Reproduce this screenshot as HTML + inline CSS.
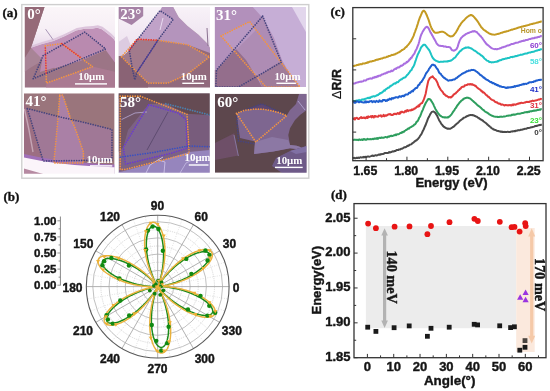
<!DOCTYPE html>
<html><head><meta charset="utf-8"><style>
html,body{margin:0;padding:0;background:#fff;width:550px;height:391px;overflow:hidden;font-family:"Liberation Sans",sans-serif}
svg{display:block;filter:blur(0.35px)}
</style></head><body>
<svg width="550" height="391" viewBox="0 0 550 391">
<defs><linearGradient id="gw1" x1="0" y1="0" x2="0" y2="1"><stop offset="0" stop-color="#fbf6f9"/><stop offset="0.6" stop-color="#f6eef5"/><stop offset="1" stop-color="#e8d8ea"/></linearGradient><linearGradient id="gw2" x1="0" y1="0" x2="0" y2="1"><stop offset="0" stop-color="#f8f2f8"/><stop offset="1" stop-color="#ece0ee"/></linearGradient><filter id="bs" x="-5%" y="-5%" width="110%" height="110%"><feGaussianBlur stdDeviation="0.3"/></filter><filter id="bl" x="-5%" y="-5%" width="110%" height="110%"><feGaussianBlur stdDeviation="0.6"/></filter></defs>
<rect width="550" height="391" fill="#fff"/>
<!-- panel a -->
<text x="2.4" y="16.8" font-family="'Liberation Serif', serif" font-weight="bold" font-size="13" fill="#111" stroke="#111" stroke-width="0.35">(a)</text>
<rect x="21.8" y="4.6" width="287" height="173.6" fill="#fff" stroke="#cfcfcf" stroke-width="1.4"/>
<clipPath id="c0"><rect x="24.6" y="7" width="90.4" height="80.7"/></clipPath>
<g clip-path="url(#c0)"><g filter="url(#bl)"><rect x="24.6" y="7" width="90.4" height="80.7" fill="#9c7486"/><polygon points="24.6,58 31,47.8 45,46 40,62 30,68 24.6,72" fill="#a88496"/><polygon points="31,47.8 41.4,44.3 53.6,40.9 64,36.5 76.2,30.4 97,27 116,33.9 116,64 105.7,50 80,61 55,68 43,60" fill="#c092b8"/><polygon points="43.1,55.6 84.8,32.1 105.7,49 60,66 40,72" fill="#b98aaf"/><polygon points="46.4,83.1 92.5,66.6 116,72 116,88 46,88" fill="#aa7a92"/><polygon points="44.5,7 116,7 116,43 114.2,39.6 111.1,36.5 106.5,32.7 101.9,29.2 97.3,27.7 92.7,28.4 85,28.8 76.2,30.4 64,36.5 53.6,40.9 41.4,44.3 31,47.8" fill="url(#gw1)"/><polygon points="116,43 114.2,39.6 111.1,36.5 106.5,32.7 101.9,29.2 97.3,27.7 92.7,28.4 85,28.8 76.2,30.4 64,36.5 53.6,40.9 41.4,44.3 31,47.8 31.6,45.4 42,41.9 54.2,38.5 64.6,34.1 76.8,28 85.6,26.4 93.3,26 97.9,25.3 102.5,26.8 107.1,30.3 111.7,34.1 114.8,37.2 116.6,40.6" fill="#dcc4dc"/><line x1="45.6" y1="29.2" x2="53" y2="39.6" stroke="#a08cb0" stroke-width="0.9"/><polygon points="24.6,7 44.5,7 31,47.8 24.6,58" fill="#956b78"/></g>
<g filter="url(#bs)">
<path d="M45.3 45.8 L61.8 43.6 L92.5 66.6 L46.4 83.1 Z" fill="none" stroke="#f39440" stroke-width="1.7" stroke-linecap="round" stroke-dasharray="0.01 2.5"/>
<path d="M33.2 78.7 L43.1 55.6 L84.8 32.1 L105.7 49 Z" fill="none" stroke="#46447e" stroke-width="1.7" stroke-linecap="round" stroke-dasharray="0.01 2.5"/>
<path d="M61.8 43.6 L81 57.8" fill="none" stroke="#e0303a" stroke-width="1.7" stroke-linecap="round" stroke-dasharray="0.01 2.5"/>
<path d="M45.3 48 L46.2 74" fill="none" stroke="#d83050" stroke-width="1.7" stroke-linecap="round" stroke-dasharray="0.01 2.5"/>
</g>
<text x="27.2" y="19.4" font-family="'Liberation Serif', serif" font-weight="bold" font-size="15" fill="#fff">0°</text>
<text x="78.2" y="80.3" font-family="'Liberation Serif', serif" font-weight="bold" font-size="10.9" fill="#fff">10μm</text>
<rect x="75" y="83.2" width="32" height="1.4" fill="#fff"/>
</g>
<clipPath id="c1"><rect x="118.5" y="7" width="91.5" height="80.7"/></clipPath>
<g clip-path="url(#c1)"><g filter="url(#bl)"><rect x="118.5" y="7" width="91.5" height="80.7" fill="#916b7d"/><polygon points="121.6,56.8 137,39.2 157.9,40.3 187.5,44.7 209.5,56.8 187.5,74.3 167.7,83.1 148,83.1" fill="#a27a8c"/><polygon points="118.5,56 121.6,56.8 148,83.1 148,88 118.5,88" fill="#8a6474"/><polygon points="160,10.6 161,7 173.2,7 178.7,17.2 187.5,26 198.5,34.8 207.3,43.6 210,48 210,53 187.5,44.7 157.9,40.3 137,39.2 129.3,50.2" fill="#b494bc"/><polygon points="160,10.6 173.2,19.4 157.9,40.3 137,39.2 129.3,50.2" fill="#c0a2c8"/><polygon points="173.2,7 210,7 210,48 207.3,43.6 198.5,34.8 187.5,26 178.7,17.2" fill="url(#gw2)"/><polygon points="118.5,7 162,7 160,10.6 129.3,50.2 124,55 118.5,56" fill="url(#gw2)"/><polygon points="118.5,42 127,36 131,46 124,55 118.5,56" fill="#dccbe0"/><polygon points="118.5,7 143.2,7 143.2,16 131.6,24.9 118.5,18.6" fill="#a682a6"/><line x1="163" y1="18" x2="160" y2="30" stroke="#e8dcf0" stroke-width="1"/><line x1="207" y1="28" x2="208" y2="46" stroke="#8a7090" stroke-width="1"/><line x1="157.9" y1="40.3" x2="137" y2="72.1" stroke="#5a3ab0" stroke-width="1.1"/></g>
<g filter="url(#bs)">
<path d="M121.6 56.8 L137 39.2 L157.9 40.3 L187.5 44.7 L209.5 56.8 L187.5 74.3 L167.7 83.1 L148 83.1 Z" fill="none" stroke="#f39440" stroke-width="1.7" stroke-linecap="round" stroke-dasharray="0.01 2.5"/>
<path d="M157.9 40.3 L173.2 19.4 L160 10.6 L129.3 50.2 L132.6 70 L134.8 79.8 L137 72.1 Z" fill="none" stroke="#46447e" stroke-width="1.7" stroke-linecap="round" stroke-dasharray="0.01 2.5"/>
<path d="M129.3 50.2 L137 39.2 L157.9 40.3" fill="none" stroke="#e0303a" stroke-width="1.7" stroke-linecap="round" stroke-dasharray="0.01 2.5"/>
</g>
<text x="120.2" y="19.4" font-family="'Liberation Serif', serif" font-weight="bold" font-size="15" fill="#fff">23°</text>
<text x="180.7" y="80" font-family="'Liberation Serif', serif" font-weight="bold" font-size="10.9" fill="#fff">10μm</text>
<rect x="182.3" y="82.6" width="21.8" height="1.4" fill="#fff"/>
</g>
<clipPath id="c2"><rect x="214.6" y="7" width="91.4" height="80"/></clipPath>
<g clip-path="url(#c2)"><g filter="url(#bl)"><rect x="214.6" y="7" width="91.4" height="80" fill="#b290bb"/><polygon points="252.8,7 306,7 306,87 299,87 290.6,75.2 282.2,60.5 273.8,37.5 263.3,18.6" fill="#c6aed6"/><polygon points="292,7 306,7 306,32" fill="#e2d6ec"/><polygon points="230,57 262.7,16.1 281.4,62.2 258,74 245,62" fill="#ae8cb4"/><polygon points="221,35.9 249.6,21.6 256,30 234,52" fill="#b898c2"/><polygon points="214.6,87 214.6,70 216.6,69.9 236,49 246,60 256,76 262,87" fill="#946e8c"/><polygon points="258,76 281,61 290.6,75.2 299,87 262,87" fill="#a07c9a"/></g>
<g filter="url(#bs)">
<path d="M221 35.9 L249.6 21.6 L300 87 L266 87 Z" fill="none" stroke="#f39440" stroke-width="1.7" stroke-linecap="round" stroke-dasharray="0.01 2.5"/>
<path d="M262.7 16.1 L281.4 62.2 L238.6 87 L215.8 87 L216.6 69.9 Z" fill="none" stroke="#46447e" stroke-width="1.7" stroke-linecap="round" stroke-dasharray="0.01 2.5"/>
</g>
<text x="216" y="20" font-family="'Liberation Serif', serif" font-weight="bold" font-size="15" fill="#fff">31°</text>
<text x="274.4" y="80.3" font-family="'Liberation Serif', serif" font-weight="bold" font-size="10.9" fill="#fff">10μm</text>
<rect x="276.4" y="82.6" width="19.5" height="1.4" fill="#fff"/>
</g>
<clipPath id="c3"><rect x="23.9" y="93.3" width="90.7" height="80.5"/></clipPath>
<g clip-path="url(#c3)"><g filter="url(#bl)"><rect x="23.9" y="93.3" width="90.7" height="80.5" fill="#9a747b"/><polygon points="23.9,100 27.3,108.5 43.2,161 23.9,160" fill="#9c6e82"/><polygon points="27.3,108.5 60.2,117 85.7,122.8 112,129.5 112,160 43.2,161" fill="#a07896"/><polygon points="59.8,95 62.7,95 70.6,118.6 74.5,126.5 79.4,140.2 83.4,152 83.4,162.9 53.9,162.9 55.8,142.2 57.8,120.6" fill="#aa80a6"/><polyline points="24.5,109 29,130 33,152" fill="none" stroke="#c4a4b4" stroke-width="1.4"/><path d="M23.9 154 Q56 161.5 92.7 163.5 T114.6 164.5 L114.6 174 L23.9 174 Z" fill="#a070b8"/><path d="M23.9 157.5 Q56 164.5 92.7 166.3 T114.6 167.5 L114.6 174 L23.9 174 Z" fill="#fbf5fa"/><polygon points="23.9,168.4 43.2,174 23.9,174" fill="#b68aa2"/></g>
<g filter="url(#bs)">
<path d="M59.8 95 L62.7 95 L70.6 118.6 L74.5 126.5 L79.4 140.2 L83.4 152 L83.4 162.9 L53.9 162.9 L55.8 142.2 L57.8 120.6 Z" fill="none" stroke="#f39440" stroke-width="1.7" stroke-linecap="round" stroke-dasharray="0.01 2.5"/>
<path d="M27.3 108.5 L60.2 117 L85.7 122.8 L112 129.5 L112 160 L43.2 161 Z" fill="none" stroke="#46447e" stroke-width="1.7" stroke-linecap="round" stroke-dasharray="0.01 2.5"/>
</g>
<text x="25.4" y="106" font-family="'Liberation Serif', serif" font-weight="bold" font-size="15" fill="#fff">41°</text>
<text x="86.5" y="163.3" font-family="'Liberation Serif', serif" font-weight="bold" font-size="10.9" fill="#fff">10μm</text>
<rect x="90" y="165.2" width="22.3" height="1.4" fill="#fff"/>
</g>
<clipPath id="c4"><rect x="118.5" y="93.3" width="91.3" height="79.5"/></clipPath>
<g clip-path="url(#c4)"><g filter="url(#bl)"><rect x="118.5" y="93.3" width="91.3" height="79.5" fill="#7c6284"/><polygon points="118.5,93.3 209.8,93.3 209.8,115.3 187,114 165.8,103.7 148.8,104 128,130 123.4,147 118.5,152" fill="#6f5468"/><polygon points="118.5,93.3 209.8,93.3 209.8,115.3 187,114 165.8,103.7 150,101 140,98 118.5,99" fill="#654c53"/><polygon points="187,114 209.8,115.3 209.8,147 187,148" fill="#785c7c"/><polygon points="148.8,104.7 178.5,113.2 186,119.6 187,148.2 170,153.5 125.5,164.1 123.4,147.2" fill="#7e668e"/><polygon points="118.5,172 122,171.6 150,164 188.8,152 209.8,150 209.8,173 118.5,173" fill="#9685bd"/><polyline points="121.5,119.6 135,113 147,112" fill="none" stroke="#b0a0c8" stroke-width="0.9"/><polyline points="146,173 150,165 158,160 163,157" fill="none" stroke="#c8bce4" stroke-width="1"/><polyline points="158,160 165,162 164,173" fill="none" stroke="#c8bce4" stroke-width="1"/><polyline points="180,173 186,163 196,158 209,156" fill="none" stroke="#c0b4e0" stroke-width="0.9"/><line x1="168" y1="112" x2="147" y2="150" stroke="#5e4c70" stroke-width="1"/></g>
<g filter="url(#bs)">
<path d="M120.2 96.2 L140.3 96.2 L187 114.3 L189.1 153.5 L125.5 169.4 L120.2 169.4 Z" fill="none" stroke="#f39440" stroke-width="1.7" stroke-linecap="round" stroke-dasharray="0.01 2.5"/>
<path d="M148.8 104.7 L178.5 113.2 L186 119.6 L187 148.2 L170 153.5 L125.5 164.1 L123.4 147.2 Z" fill="none" stroke="#6a3ad0" stroke-width="1.7" stroke-linecap="round" stroke-dasharray="0.01 2.5"/>
<path d="M120.4 157.1 L151.2 152.8 L188.8 146 L211 146.8" fill="none" stroke="#3a50c0" stroke-width="1.7" stroke-linecap="round" stroke-dasharray="0.01 2.5"/>
<path d="M165.8 103.7 L211 115.3" fill="none" stroke="#4a80b0" stroke-width="1.7" stroke-linecap="round" stroke-dasharray="0.01 2.5"/>
</g>
<text x="120" y="107" font-family="'Liberation Serif', serif" font-weight="bold" font-size="15" fill="#fff">58°</text>
<text x="184.5" y="161.2" font-family="'Liberation Serif', serif" font-weight="bold" font-size="10.9" fill="#fff">10μm</text>
<rect x="188.8" y="164.3" width="19.7" height="1.4" fill="#fff"/>
</g>
<clipPath id="c5"><rect x="215" y="93.7" width="91.7" height="79.1"/></clipPath>
<g clip-path="url(#c5)"><g filter="url(#bl)"><rect x="215" y="93.7" width="91.7" height="79.1" fill="#5d464d"/><polygon points="215,142.9 234.2,133.3 238.4,155.6 215,159.9" fill="#6e5068"/><polygon points="241.8,111 261.9,103.9 285.6,114.5 263,109.2" fill="#5e4670"/><polygon points="236.5,113.4 244.2,110.4 253.6,109.2 263.1,109.2 272.6,111 279.6,112.8 286.6,115.8 290,110 296,104 299,94 306.7,94 306.7,110 300,115 295,120 290,128.3 288.3,135 290,145 296.6,145.8 301.6,147.4 296.6,149 290,148.3 273.3,151.6 254.1,154.1 255,141.6 240,138" fill="#7e6690"/><polygon points="255,142 272,137 288.3,140 290,145 296.6,145.8 301.6,147.4 296.6,149 290,148.3 273.3,151.6 254.1,154.1" fill="#8c78a4"/><polygon points="276,158 290,151 300,148 306.7,146 306.7,173 282,173 272,166" fill="#6e5a88"/><polygon points="290,151 300,148 306.7,146 306.7,152 296,154" fill="#8070a4"/><line x1="298" y1="101" x2="305" y2="110" stroke="#b0a4d0" stroke-width="0.9"/><line x1="234" y1="135" x2="238.4" y2="156" stroke="#8c80b0" stroke-width="0.8"/></g>
<g filter="url(#bs)">
<path d="M241.8 111 L261.9 103.9 L285.6 114.5" fill="none" stroke="#46447e" stroke-width="1.7" stroke-linecap="round" stroke-dasharray="0.01 2.5"/>
<path d="M236.5 113.4 L238.4 140.8 L255.4 144" fill="none" stroke="#46447e" stroke-width="1.7" stroke-linecap="round" stroke-dasharray="0.01 2.5"/>
<path d="M236.5 113.4 L244.2 110.4 L253.6 109.2 L263.1 109.2 L272.6 111 L279.6 112.8 L286.7 115.7 L255.8 142 Z" fill="none" stroke="#f39440" stroke-width="1.7" stroke-linecap="round" stroke-dasharray="0.01 2.5"/>
</g>
<text x="217.3" y="107" font-family="'Liberation Serif', serif" font-weight="bold" font-size="15" fill="#fff">60°</text>
<text x="276.2" y="163.5" font-family="'Liberation Serif', serif" font-weight="bold" font-size="10.9" fill="#fff">10μm</text>
<rect x="275" y="166.7" width="27.7" height="1.4" fill="#fff"/>
</g>
<!-- panel c -->
<text x="330.4" y="16.2" font-family="'Liberation Serif', serif" font-weight="bold" font-size="13" fill="#111" stroke="#111" stroke-width="0.35">(c)</text>
<path d="M352.8 66.19 L353.5 65.91 L354.2 66.04 L354.9 65.51 L355.6 65.62 L356.3 65.34 L357 64.98 L357.7 65.07 L358.4 64.62 L359.1 64.68 L359.8 64.28 L360.5 64.12 L361.2 64.14 L361.9 64.21 L362.6 63.61 L363.3 63.49 L364 63.55 L364.7 63.56 L365.4 63.16 L366.1 62.86 L366.8 63.03 L367.5 62.28 L368.2 62.58 L368.9 62.05 L369.6 61.77 L370.3 61.56 L371 61.49 L371.7 61.59 L372.4 61.01 L373.1 61.05 L373.8 60.88 L374.5 60.52 L375.2 60.42 L375.9 59.92 L376.6 59.71 L377.3 59.59 L378 59.66 L378.7 59.3 L379.4 59.02 L380.1 58.97 L380.8 58.68 L381.5 58.38 L382.2 58.46 L382.9 58.18 L383.6 57.69 L384.3 57.67 L385 57.43 L385.7 57.41 L386.4 57.1 L387.1 56.62 L387.8 56.81 L388.5 56.06 L389.2 56.01 L389.9 55.99 L390.6 55.39 L391.3 55.36 L392 54.86 L392.7 55 L393.4 54.82 L394.1 54.47 L394.8 54.39 L395.5 53.77 L396.2 53.69 L396.9 53.3 L397.6 52.93 L398.3 52.47 L399 52.3 L399.7 51.95 L400.4 51.24 L401.1 50.91 L401.8 50.08 L402.5 49.98 L403.2 49.45 L403.9 49.14 L404.6 48.5 L405.3 47.61 L406 47.07 L406.7 46.6 L407.4 45.53 L408.1 45.04 L408.8 44.04 L409.5 43.1 L410.2 42.06 L410.9 41.36 L411.6 39.78 L412.3 38.51 L413 37.07 L413.7 35.63 L414.4 33.29 L415.1 31.61 L415.8 29.72 L416.5 27.82 L417.2 25.62 L417.9 23.48 L418.6 21 L419.3 19.08 L420 17.22 L420.7 15.72 L421.4 14.1 L422.1 12.41 L422.8 11.34 L423.5 10.79 L424.2 10.84 L424.9 11.61 L425.6 12.83 L426.3 14.22 L427 15.77 L427.7 17.52 L428.4 19.3 L429.1 21.42 L429.8 23.66 L430.5 25.62 L431.2 27.35 L431.9 28.82 L432.6 30.09 L433.3 30.92 L434 31.93 L434.7 32.39 L435.4 32.74 L436.1 32.85 L436.8 32.72 L437.5 32.64 L438.2 32.42 L438.9 32.41 L439.6 32.07 L440.3 31.91 L441 31.84 L441.7 31.8 L442.4 31.86 L443.1 31.87 L443.8 32.11 L444.5 32.5 L445.2 32.92 L445.9 33.52 L446.6 33.97 L447.3 34.78 L448 35.23 L448.7 35.58 L449.4 36.03 L450.1 36.35 L450.8 36.46 L451.5 36.34 L452.2 36.34 L452.9 35.98 L453.6 35.21 L454.3 34.47 L455 33.52 L455.7 32.59 L456.4 31.54 L457.1 30.26 L457.8 29.12 L458.5 27.61 L459.2 26.3 L459.9 25.4 L460.6 24.21 L461.3 23.15 L462 22.42 L462.7 21.46 L463.4 20.83 L464.1 20.2 L464.8 19.44 L465.5 18.69 L466.2 17.89 L466.9 17.29 L467.6 16.66 L468.3 16.31 L469 15.77 L469.7 15.47 L470.4 15.08 L471.1 14.96 L471.8 15.23 L472.5 15.6 L473.2 16.11 L473.9 16.83 L474.6 17.69 L475.3 18.56 L476 19.27 L476.7 20.19 L477.4 21.08 L478.1 22.04 L478.8 23.17 L479.5 24.38 L480.2 25.45 L480.9 26.58 L481.6 27.56 L482.3 28.18 L483 29.01 L483.7 29.65 L484.4 30.23 L485.1 30.62 L485.8 31.12 L486.5 31.63 L487.2 32.1 L487.9 32.54 L488.6 33.07 L489.3 33.52 L490 33.82 L490.7 33.99 L491.4 34.27 L492.1 34.48 L492.8 34.39 L493.5 34.63 L494.2 34.71 L494.9 34.63 L495.6 34.53 L496.3 34.32 L497 34.07 L497.7 34.07 L498.4 33.73 L499.1 33.65 L499.8 33.47 L500.5 33.07 L501.2 32.84 L501.9 32.78 L502.6 32.5 L503.3 32.13 L504 31.92 L504.7 31.73 L505.4 31.76 L506.1 31.53 L506.8 31.13 L507.5 31.13 L508.2 30.97 L508.9 30.66 L509.6 30.35 L510.3 30.19 L511 29.85 L511.7 29.6 L512.4 29.67 L513.1 29.35 L513.8 29.1 L514.5 29 L515.2 28.64 L515.9 28.56 L516.6 28.33 L517.3 27.94 L518 27.75 L518.7 27.55 L519.4 27.34 L520.1 27.24 L520.8 26.94 L521.5 26.8 L522.2 26.52 L522.9 26.56 L523.6 26.21 L524.3 26.05 L525 25.9 L525.7 25.81 L526.4 25.47 L527.1 25.44 L527.8 25.12 L528.5 24.95 L529.2 24.76 L529.9 24.42 L530.6 24.37 L531.3 24.11 L532 23.87 L532.7 23.92 L533.4 23.55 L534.1 23.46 L534.8 23.35 L535.5 23.12 L536.2 22.86 L536.9 22.74 L537.6 22.57 L538.3 22.45 L539 22.07 L539.7 22.02 L540.4 21.75 L541.1 21.57 L541.8 21.53" fill="none" stroke="#c49a22" stroke-width="2" stroke-linejoin="round"/>
<path d="M352.8 83.71 L353.5 83.57 L354.2 83.57 L354.9 83.53 L355.6 82.87 L356.3 82.85 L357 82.55 L357.7 82.37 L358.4 82.36 L359.1 81.93 L359.8 81.82 L360.5 81.57 L361.2 81.84 L361.9 81.4 L362.6 81.38 L363.3 81.25 L364 80.37 L364.7 80.47 L365.4 80.65 L366.1 80.34 L366.8 79.43 L367.5 79.21 L368.2 79.32 L368.9 78.73 L369.6 78.68 L370.3 78.29 L371 78.67 L371.7 78.55 L372.4 78.43 L373.1 77.46 L373.8 77.78 L374.5 77.49 L375.2 76.73 L375.9 77.23 L376.6 77.07 L377.3 76.08 L378 76.56 L378.7 75.76 L379.4 75.6 L380.1 75.85 L380.8 75.44 L381.5 74.51 L382.2 74.52 L382.9 74.35 L383.6 73.91 L384.3 73.51 L385 73.37 L385.7 73.5 L386.4 72.53 L387.1 72.8 L387.8 72.41 L388.5 71.72 L389.2 71.75 L389.9 71.76 L390.6 71.36 L391.3 70.62 L392 71.24 L392.7 70.72 L393.4 70.58 L394.1 69.36 L394.8 69.16 L395.5 68.54 L396.2 68.88 L396.9 67.97 L397.6 67.42 L398.3 67.32 L399 67.43 L399.7 66.96 L400.4 66.03 L401.1 65.54 L401.8 65.93 L402.5 65.2 L403.2 64.92 L403.9 63.89 L404.6 63.41 L405.3 63.57 L406 62.8 L406.7 61.89 L407.4 62.16 L408.1 61.22 L408.8 60.72 L409.5 59.3 L410.2 59.32 L410.9 57.73 L411.6 57.68 L412.3 56.36 L413 55.27 L413.7 54.44 L414.4 53.67 L415.1 51.77 L415.8 50.29 L416.5 49.25 L417.2 47.4 L417.9 45.61 L418.6 43.82 L419.3 41.29 L420 38.49 L420.7 36.04 L421.4 34.14 L422.1 32.94 L422.8 31.44 L423.5 30.39 L424.2 29.2 L424.9 28.38 L425.6 27.47 L426.3 27.03 L427 26.67 L427.7 27.28 L428.4 28.03 L429.1 29.16 L429.8 30.83 L430.5 32.46 L431.2 33.24 L431.9 34.83 L432.6 35.89 L433.3 37.19 L434 38.62 L434.7 39.61 L435.4 40.9 L436.1 42.38 L436.8 43.77 L437.5 44.33 L438.2 45.17 L438.9 45.47 L439.6 45.7 L440.3 45.78 L441 45.91 L441.7 45.89 L442.4 46.03 L443.1 46.1 L443.8 46.54 L444.5 46.42 L445.2 46.51 L445.9 46.58 L446.6 47.04 L447.3 47.12 L448 47.1 L448.7 47 L449.4 47.15 L450.1 47.46 L450.8 48.31 L451.5 49.61 L452.2 50.27 L452.9 50.29 L453.6 50.67 L454.3 50.6 L455 50.18 L455.7 49.65 L456.4 49.4 L457.1 48.09 L457.8 46.38 L458.5 43.84 L459.2 41.81 L459.9 40.13 L460.6 38.87 L461.3 37.8 L462 37.23 L462.7 36.36 L463.4 35.92 L464.1 35.32 L464.8 34.98 L465.5 34.35 L466.2 33.9 L466.9 33.64 L467.6 33.21 L468.3 33.04 L469 32.66 L469.7 32.47 L470.4 32.13 L471.1 31.91 L471.8 31.77 L472.5 31.34 L473.2 31.19 L473.9 31.45 L474.6 31.08 L475.3 31.54 L476 31.79 L476.7 31.92 L477.4 32.87 L478.1 33.58 L478.8 34.22 L479.5 35.1 L480.2 35.96 L480.9 36.4 L481.6 37.35 L482.3 38.16 L483 39.25 L483.7 40.23 L484.4 41.26 L485.1 42.15 L485.8 43.24 L486.5 43.99 L487.2 44.73 L487.9 45.13 L488.6 45.62 L489.3 46.25 L490 46.91 L490.7 47.28 L491.4 48.09 L492.1 48.33 L492.8 48.67 L493.5 48.91 L494.2 49.11 L494.9 49.14 L495.6 48.93 L496.3 49.32 L497 49.25 L497.7 49 L498.4 48.87 L499.1 48.75 L499.8 48.24 L500.5 48.35 L501.2 47.86 L501.9 47.51 L502.6 47.34 L503.3 47.3 L504 46.76 L504.7 46.76 L505.4 46.61 L506.1 46.1 L506.8 45.79 L507.5 45.58 L508.2 45.45 L508.9 45.27 L509.6 44.97 L510.3 44.77 L511 44.28 L511.7 44.09 L512.4 43.93 L513.1 43.96 L513.8 43.53 L514.5 43.44 L515.2 42.95 L515.9 42.76 L516.6 42.65 L517.3 42.64 L518 42.44 L518.7 42.22 L519.4 41.82 L520.1 41.72 L520.8 41.49 L521.5 41.29 L522.2 40.91 L522.9 41.1 L523.6 40.55 L524.3 40.74 L525 40.53 L525.7 39.88 L526.4 39.91 L527.1 39.91 L527.8 39.8 L528.5 39.36 L529.2 39.09 L529.9 38.89 L530.6 39.08 L531.3 38.54 L532 38.55 L532.7 38.16 L533.4 38.18 L534.1 38.22 L534.8 37.64 L535.5 37.82 L536.2 37.49 L536.9 37.52 L537.6 37.26 L538.3 36.85 L539 37.02 L539.7 36.65 L540.4 36.25 L541.1 36.07 L541.8 36.14" fill="none" stroke="#a96ee0" stroke-width="2" stroke-linejoin="round"/>
<path d="M352.8 101.55 L353.5 101.25 L354.2 100.95 L354.9 101.01 L355.6 100.84 L356.3 101.22 L357 100.24 L357.7 100.85 L358.4 100.79 L359.1 99.93 L359.8 100.58 L360.5 100.22 L361.2 100.26 L361.9 99.49 L362.6 99.42 L363.3 99.28 L364 99.72 L364.7 99.14 L365.4 98.74 L366.1 98.63 L366.8 98.28 L367.5 97.86 L368.2 97.71 L368.9 98.24 L369.6 97.48 L370.3 97.92 L371 97.02 L371.7 96.81 L372.4 96.83 L373.1 96.27 L373.8 96.21 L374.5 96.53 L375.2 96.19 L375.9 95.84 L376.6 95.36 L377.3 95.33 L378 95.04 L378.7 94.3 L379.4 94.11 L380.1 93.05 L380.8 93.31 L381.5 92.59 L382.2 92.43 L382.9 91.84 L383.6 90.98 L384.3 90.23 L385 90.59 L385.7 89.26 L386.4 89.08 L387.1 88.42 L387.8 87.85 L388.5 87.78 L389.2 87.52 L389.9 86.33 L390.6 86.27 L391.3 85.48 L392 85.3 L392.7 84.72 L393.4 84.08 L394.1 83.67 L394.8 83.32 L395.5 83.61 L396.2 82.79 L396.9 82.1 L397.6 82.35 L398.3 82 L399 81 L399.7 80.26 L400.4 79.88 L401.1 79.35 L401.8 79.17 L402.5 78.48 L403.2 78.16 L403.9 77.7 L404.6 77.49 L405.3 77.25 L406 76.51 L406.7 75.51 L407.4 74.79 L408.1 74.15 L408.8 73.2 L409.5 72.31 L410.2 71.12 L410.9 70.36 L411.6 70 L412.3 68.02 L413 67.16 L413.7 65.9 L414.4 64.53 L415.1 62.04 L415.8 60.1 L416.5 57.99 L417.2 56.09 L417.9 54.22 L418.6 53.08 L419.3 51.47 L420 50.09 L420.7 48.19 L421.4 47.01 L422.1 46.3 L422.8 45.52 L423.5 44.68 L424.2 44.68 L424.9 44.75 L425.6 45.51 L426.3 46.5 L427 47.29 L427.7 48.24 L428.4 49.31 L429.1 50.05 L429.8 51.29 L430.5 52.85 L431.2 54.62 L431.9 56.21 L432.6 57.63 L433.3 58.53 L434 59.28 L434.7 59.98 L435.4 60.35 L436.1 60.81 L436.8 60.88 L437.5 61.52 L438.2 61.47 L438.9 61.96 L439.6 61.91 L440.3 61.77 L441 61.68 L441.7 61.72 L442.4 61.87 L443.1 61.84 L443.8 61.49 L444.5 61.41 L445.2 61.59 L445.9 61.58 L446.6 61.44 L447.3 61.29 L448 61.4 L448.7 60.96 L449.4 60.92 L450.1 60.74 L450.8 60.67 L451.5 60.15 L452.2 59.85 L452.9 59.16 L453.6 58.5 L454.3 57.91 L455 57.63 L455.7 56.77 L456.4 55.74 L457.1 54.7 L457.8 54.03 L458.5 53.21 L459.2 52.22 L459.9 51.34 L460.6 50.84 L461.3 50.37 L462 49.51 L462.7 48.94 L463.4 48.65 L464.1 48.29 L464.8 48.09 L465.5 47.59 L466.2 47.71 L466.9 47.58 L467.6 47.45 L468.3 47.35 L469 47.87 L469.7 47.75 L470.4 48.29 L471.1 48.33 L471.8 48.69 L472.5 49.39 L473.2 49.59 L473.9 50.38 L474.6 50.64 L475.3 50.98 L476 51.5 L476.7 52.1 L477.4 52.72 L478.1 53.36 L478.8 53.44 L479.5 54.05 L480.2 54.46 L480.9 55.38 L481.6 55.54 L482.3 56.1 L483 56.73 L483.7 57.52 L484.4 58.4 L485.1 59.01 L485.8 59.52 L486.5 60.21 L487.2 60.7 L487.9 60.86 L488.6 61.22 L489.3 61.93 L490 62.13 L490.7 61.98 L491.4 62.43 L492.1 62.37 L492.8 62.36 L493.5 62.3 L494.2 62.11 L494.9 61.88 L495.6 61.83 L496.3 61.65 L497 61.71 L497.7 61.03 L498.4 61.19 L499.1 60.53 L499.8 60.34 L500.5 60.31 L501.2 60.05 L501.9 59.62 L502.6 59.2 L503.3 59.21 L504 58.96 L504.7 59.06 L505.4 58.52 L506.1 58.43 L506.8 58.53 L507.5 57.92 L508.2 57.94 L508.9 57.96 L509.6 57.77 L510.3 57.23 L511 57.05 L511.7 56.9 L512.4 57.15 L513.1 56.65 L513.8 56.72 L514.5 56.62 L515.2 56.17 L515.9 55.96 L516.6 56.13 L517.3 55.78 L518 55.43 L518.7 55.48 L519.4 55.1 L520.1 54.91 L520.8 54.59 L521.5 54.79 L522.2 54.69 L522.9 54.37 L523.6 54.35 L524.3 53.71 L525 53.63 L525.7 53.57 L526.4 53.62 L527.1 53.44 L527.8 52.97 L528.5 52.71 L529.2 52.62 L529.9 52.46 L530.6 52.49 L531.3 51.93 L532 52.05 L532.7 51.83 L533.4 51.69 L534.1 51.47 L534.8 51.2 L535.5 50.87 L536.2 50.68 L536.9 50.51 L537.6 50.53 L538.3 49.99 L539 49.86 L539.7 49.95 L540.4 49.51 L541.1 49.22 L541.8 49.02" fill="none" stroke="#1cc4c4" stroke-width="2" stroke-linejoin="round"/>
<path d="M352.8 101.98 L353.5 101.63 L354.2 102.68 L354.9 102.54 L355.6 102.72 L356.3 101.57 L357 101.3 L357.7 101.33 L358.4 101.98 L359.1 102.32 L359.8 101.91 L360.5 101.58 L361.2 101.87 L361.9 102.19 L362.6 102.28 L363.3 102.39 L364 102.54 L364.7 102.24 L365.4 101.35 L366.1 102.48 L366.8 101.58 L367.5 101.99 L368.2 101.65 L368.9 102.2 L369.6 101.29 L370.3 101.33 L371 101.28 L371.7 101.08 L372.4 102.21 L373.1 101.67 L373.8 101.21 L374.5 101.27 L375.2 102.17 L375.9 101.34 L376.6 100.84 L377.3 101.7 L378 101.39 L378.7 101.87 L379.4 100.38 L380.1 100.91 L380.8 101.4 L381.5 101.36 L382.2 101.4 L382.9 99.93 L383.6 100.25 L384.3 99.89 L385 99.9 L385.7 101.04 L386.4 100.28 L387.1 100.66 L387.8 99.52 L388.5 100.04 L389.2 99.13 L389.9 98.64 L390.6 99.31 L391.3 99.44 L392 97.96 L392.7 98.61 L393.4 98.51 L394.1 97.74 L394.8 97.85 L395.5 97.35 L396.2 97.3 L396.9 97.24 L397.6 97.63 L398.3 97.54 L399 96.65 L399.7 96.18 L400.4 96.53 L401.1 96.92 L401.8 95.97 L402.5 95.99 L403.2 95.62 L403.9 96.36 L404.6 95.72 L405.3 94.68 L406 94.44 L406.7 94.58 L407.4 94.46 L408.1 94.21 L408.8 92.91 L409.5 92.58 L410.2 92.97 L410.9 92.03 L411.6 91.32 L412.3 90.83 L413 91.32 L413.7 89.72 L414.4 89.54 L415.1 88.59 L415.8 88.04 L416.5 88.09 L417.2 87.59 L417.9 85.84 L418.6 84.8 L419.3 84.83 L420 83.14 L420.7 82.32 L421.4 82.09 L422.1 80.71 L422.8 79.93 L423.5 78.41 L424.2 77.54 L424.9 75.93 L425.6 74.41 L426.3 73.04 L427 72.28 L427.7 71.25 L428.4 70.37 L429.1 68.63 L429.8 68 L430.5 66.8 L431.2 66.02 L431.9 65 L432.6 64.63 L433.3 64.65 L434 65.2 L434.7 65.16 L435.4 66.25 L436.1 67.34 L436.8 68.53 L437.5 69.1 L438.2 70.27 L438.9 72.09 L439.6 73.17 L440.3 73.68 L441 74.16 L441.7 75.63 L442.4 75.93 L443.1 77.03 L443.8 77.45 L444.5 78.21 L445.2 78.25 L445.9 79.31 L446.6 79.38 L447.3 79.94 L448 80.58 L448.7 80.72 L449.4 80.26 L450.1 80.28 L450.8 80.35 L451.5 80.32 L452.2 80.03 L452.9 79.6 L453.6 79.44 L454.3 79.52 L455 79.32 L455.7 78.23 L456.4 78.18 L457.1 77.82 L457.8 76.7 L458.5 76.79 L459.2 75.66 L459.9 75.5 L460.6 74.94 L461.3 74.51 L462 73.81 L462.7 73.5 L463.4 73.27 L464.1 72.8 L464.8 72.63 L465.5 72.11 L466.2 71.76 L466.9 71.11 L467.6 71.28 L468.3 70.89 L469 70.44 L469.7 70.66 L470.4 70.49 L471.1 70.12 L471.8 69.85 L472.5 70.07 L473.2 69.86 L473.9 70.05 L474.6 70.54 L475.3 70.61 L476 71.3 L476.7 71.83 L477.4 71.97 L478.1 73.01 L478.8 73.16 L479.5 74.28 L480.2 74.93 L480.9 75.32 L481.6 75.55 L482.3 76.46 L483 76.88 L483.7 77.83 L484.4 77.63 L485.1 78.67 L485.8 79.23 L486.5 79.48 L487.2 80 L487.9 79.94 L488.6 81.01 L489.3 81.05 L490 81.83 L490.7 82.2 L491.4 81.98 L492.1 82.85 L492.8 83.32 L493.5 82.96 L494.2 83.52 L494.9 84.17 L495.6 84.03 L496.3 84.95 L497 84.79 L497.7 85.54 L498.4 85.33 L499.1 85.91 L499.8 86.53 L500.5 86.22 L501.2 86.5 L501.9 86.91 L502.6 86.94 L503.3 86.89 L504 87.12 L504.7 87.22 L505.4 87.89 L506.1 87.74 L506.8 87.91 L507.5 87.33 L508.2 87.77 L508.9 87.18 L509.6 87.42 L510.3 87.41 L511 87.08 L511.7 87.36 L512.4 86.98 L513.1 86.85 L513.8 86.94 L514.5 86.15 L515.2 86.7 L515.9 86.24 L516.6 85.87 L517.3 86.02 L518 85.42 L518.7 85.82 L519.4 85.31 L520.1 84.97 L520.8 85.12 L521.5 84.69 L522.2 84.31 L522.9 84.6 L523.6 83.88 L524.3 84.33 L525 83.71 L525.7 83.84 L526.4 83.94 L527.1 83.44 L527.8 83.33 L528.5 82.87 L529.2 82.44 L529.9 82.28 L530.6 82.19 L531.3 82.38 L532 82.04 L532.7 81.92 L533.4 82.04 L534.1 81.24 L534.8 81.13 L535.5 81.28 L536.2 80.58 L536.9 80.38 L537.6 80.47 L538.3 80.08 L539 80.09 L539.7 79.8 L540.4 79.89 L541.1 79.71 L541.8 79.22" fill="none" stroke="#1f5fd0" stroke-width="2" stroke-linejoin="round"/>
<path d="M352.8 119.22 L353.5 118.87 L354.2 118.17 L354.9 119.53 L355.6 118.2 L356.3 117.94 L357 117.76 L357.7 118.65 L358.4 118.99 L359.1 118.74 L359.8 117.98 L360.5 117.64 L361.2 117.11 L361.9 118.16 L362.6 117.93 L363.3 117.47 L364 117.92 L364.7 117.48 L365.4 118.29 L366.1 117.84 L366.8 116.89 L367.5 118 L368.2 116.38 L368.9 117.18 L369.6 116.89 L370.3 116.52 L371 116.13 L371.7 117.36 L372.4 115.92 L373.1 116.82 L373.8 117.46 L374.5 115.96 L375.2 116 L375.9 116.67 L376.6 116.42 L377.3 116.6 L378 116.84 L378.7 115.63 L379.4 115.8 L380.1 115.71 L380.8 115.19 L381.5 116.63 L382.2 116.36 L382.9 116.16 L383.6 114.8 L384.3 116.22 L385 115.95 L385.7 115.35 L386.4 115.75 L387.1 115.14 L387.8 114.63 L388.5 114.31 L389.2 114.43 L389.9 113.98 L390.6 114.4 L391.3 115.04 L392 114.83 L392.7 114.98 L393.4 114.62 L394.1 113.69 L394.8 114.09 L395.5 113.74 L396.2 114.25 L396.9 113.63 L397.6 113.02 L398.3 113.56 L399 113.98 L399.7 112.46 L400.4 113.48 L401.1 111.72 L401.8 111.95 L402.5 111.69 L403.2 112.37 L403.9 112.49 L404.6 111.89 L405.3 110.9 L406 111.67 L406.7 110.46 L407.4 110.1 L408.1 111.12 L408.8 110.45 L409.5 110.39 L410.2 110.17 L410.9 110.56 L411.6 109.45 L412.3 109.91 L413 109.43 L413.7 109.46 L414.4 108.42 L415.1 108.6 L415.8 107.95 L416.5 107.08 L417.2 106.47 L417.9 106.75 L418.6 105.27 L419.3 106.23 L420 104.26 L420.7 103.82 L421.4 103.17 L422.1 103.09 L422.8 101.63 L423.5 100.23 L424.2 98.43 L424.9 96.29 L425.6 93.99 L426.3 90.33 L427 86.67 L427.7 83.48 L428.4 80.57 L429.1 79.44 L429.8 78.07 L430.5 77.67 L431.2 77.15 L431.9 76.95 L432.6 76.25 L433.3 77.36 L434 78.04 L434.7 78.91 L435.4 79.12 L436.1 80.27 L436.8 81.51 L437.5 82.92 L438.2 85.18 L438.9 86.63 L439.6 87.8 L440.3 89.14 L441 90.07 L441.7 90.83 L442.4 91.65 L443.1 92.58 L443.8 94.01 L444.5 94.25 L445.2 94.99 L445.9 95.65 L446.6 95.78 L447.3 96.42 L448 96.77 L448.7 97.38 L449.4 97.19 L450.1 97.12 L450.8 97.5 L451.5 96.72 L452.2 96.51 L452.9 95.68 L453.6 94.5 L454.3 94.21 L455 93.64 L455.7 93.34 L456.4 92.3 L457.1 91.94 L457.8 91.11 L458.5 90.13 L459.2 90.04 L459.9 88.7 L460.6 88.73 L461.3 87.58 L462 86.91 L462.7 86.63 L463.4 86.73 L464.1 86.56 L464.8 85.32 L465.5 85.42 L466.2 85.11 L466.9 85.11 L467.6 84.31 L468.3 84.41 L469 84.15 L469.7 84.51 L470.4 83.97 L471.1 84.64 L471.8 84.17 L472.5 84.28 L473.2 84.99 L473.9 85.15 L474.6 85.18 L475.3 86.1 L476 86.09 L476.7 87.24 L477.4 87.71 L478.1 88.36 L478.8 88.8 L479.5 89.15 L480.2 89.79 L480.9 90.38 L481.6 91.43 L482.3 91.29 L483 92.57 L483.7 92.35 L484.4 93.07 L485.1 93.69 L485.8 94.86 L486.5 95.11 L487.2 95.61 L487.9 96.68 L488.6 96.71 L489.3 97.52 L490 98.17 L490.7 98.94 L491.4 99.47 L492.1 99.88 L492.8 100.1 L493.5 100.5 L494.2 100.76 L494.9 101.77 L495.6 101.99 L496.3 102.44 L497 102.29 L497.7 102.89 L498.4 103.53 L499.1 103.66 L499.8 103.55 L500.5 104.12 L501.2 104.75 L501.9 104.39 L502.6 104.54 L503.3 104.81 L504 105.31 L504.7 105.56 L505.4 105.01 L506.1 105.09 L506.8 105.19 L507.5 105.28 L508.2 105.43 L508.9 105.07 L509.6 105.16 L510.3 104.96 L511 105.58 L511.7 105.26 L512.4 104.58 L513.1 105.23 L513.8 104.33 L514.5 104.44 L515.2 104.84 L515.9 104.53 L516.6 104.32 L517.3 103.9 L518 103.54 L518.7 103.79 L519.4 103.16 L520.1 103.11 L520.8 103.13 L521.5 102.67 L522.2 102.87 L522.9 103.09 L523.6 102.87 L524.3 102.56 L525 102.55 L525.7 102.26 L526.4 101.83 L527.1 102.11 L527.8 101.79 L528.5 101.95 L529.2 101.96 L529.9 101.38 L530.6 101.37 L531.3 101.38 L532 100.94 L532.7 100.62 L533.4 100.92 L534.1 100.91 L534.8 100.67 L535.5 100.45 L536.2 100.44 L536.9 100.14 L537.6 99.96 L538.3 99.64 L539 99.36 L539.7 99.5 L540.4 98.87 L541.1 99.02 L541.8 99.2" fill="none" stroke="#e23a3a" stroke-width="2" stroke-linejoin="round"/>
<path d="M352.8 140.11 L353.5 140 L354.2 139.6 L354.9 139.76 L355.6 139.77 L356.3 139.91 L357 139.68 L357.7 139.93 L358.4 140.16 L359.1 139.39 L359.8 139.84 L360.5 139.94 L361.2 139.52 L361.9 139.59 L362.6 140.04 L363.3 139.07 L364 139.55 L364.7 139.12 L365.4 139.7 L366.1 139.82 L366.8 139.35 L367.5 138.88 L368.2 139.3 L368.9 139.21 L369.6 139.33 L370.3 139.07 L371 139.14 L371.7 139.27 L372.4 138.91 L373.1 138.74 L373.8 139.21 L374.5 138.41 L375.2 138.82 L375.9 138.46 L376.6 138.76 L377.3 138.05 L378 138.83 L378.7 138.13 L379.4 137.75 L380.1 137.88 L380.8 137.92 L381.5 137.44 L382.2 137.74 L382.9 137.64 L383.6 137.81 L384.3 137.35 L385 137.14 L385.7 136.97 L386.4 137.35 L387.1 137.42 L387.8 136.86 L388.5 136.4 L389.2 136.83 L389.9 136.26 L390.6 135.91 L391.3 135.66 L392 136.13 L392.7 135.98 L393.4 135.62 L394.1 135.26 L394.8 135.16 L395.5 134.61 L396.2 135.14 L396.9 134.31 L397.6 134.37 L398.3 134.32 L399 134.07 L399.7 133.46 L400.4 133.01 L401.1 132.96 L401.8 132.22 L402.5 132.58 L403.2 131.74 L403.9 131.85 L404.6 130.86 L405.3 130.55 L406 130.01 L406.7 129.77 L407.4 129.11 L408.1 128.51 L408.8 128.8 L409.5 127.93 L410.2 127.45 L410.9 127.05 L411.6 126.75 L412.3 126.2 L413 125.88 L413.7 125.34 L414.4 124.43 L415.1 124.32 L415.8 123.48 L416.5 121.83 L417.2 121.63 L417.9 120.62 L418.6 119.3 L419.3 117.37 L420 116.73 L420.7 114.98 L421.4 112.98 L422.1 111.18 L422.8 109.84 L423.5 107.99 L424.2 106.27 L424.9 104.74 L425.6 103.31 L426.3 101.97 L427 101 L427.7 99.75 L428.4 98.97 L429.1 99.09 L429.8 99.24 L430.5 99.56 L431.2 100.86 L431.9 101.79 L432.6 102.97 L433.3 104.21 L434 105.85 L434.7 107.39 L435.4 108.94 L436.1 109.98 L436.8 111.35 L437.5 112.3 L438.2 113.35 L438.9 114.08 L439.6 115.1 L440.3 115.65 L441 116.12 L441.7 116.58 L442.4 116.88 L443.1 117.28 L443.8 117.19 L444.5 117.46 L445.2 117.3 L445.9 117.44 L446.6 117.39 L447.3 117.37 L448 117.43 L448.7 116.74 L449.4 116.7 L450.1 115.88 L450.8 115.13 L451.5 114.26 L452.2 113.34 L452.9 112.08 L453.6 111.06 L454.3 110.31 L455 108.89 L455.7 108.17 L456.4 107.12 L457.1 105.75 L457.8 104.99 L458.5 104.01 L459.2 103.19 L459.9 102.03 L460.6 101.61 L461.3 100.74 L462 100.14 L462.7 99.79 L463.4 98.84 L464.1 98.73 L464.8 98.31 L465.5 97.88 L466.2 97.95 L466.9 97.61 L467.6 97.67 L468.3 97.81 L469 98.19 L469.7 98.26 L470.4 98.81 L471.1 99.31 L471.8 99.93 L472.5 100.67 L473.2 101.04 L473.9 101.95 L474.6 102.39 L475.3 103.09 L476 103.61 L476.7 104.34 L477.4 105.15 L478.1 105.57 L478.8 106.22 L479.5 106.58 L480.2 107.19 L480.9 107.79 L481.6 108.55 L482.3 109.18 L483 109.85 L483.7 110.07 L484.4 110.98 L485.1 111.61 L485.8 111.96 L486.5 112.21 L487.2 112.79 L487.9 113.07 L488.6 113.58 L489.3 114.36 L490 114.61 L490.7 115.03 L491.4 115.46 L492.1 115.85 L492.8 115.99 L493.5 116.24 L494.2 116.45 L494.9 116.64 L495.6 116.73 L496.3 116.87 L497 116.7 L497.7 116.97 L498.4 116.88 L499.1 117.03 L499.8 116.68 L500.5 116.67 L501.2 116.55 L501.9 116.84 L502.6 116.84 L503.3 116.62 L504 116.37 L504.7 116.5 L505.4 116.36 L506.1 116.14 L506.8 115.86 L507.5 115.75 L508.2 115.69 L508.9 115.5 L509.6 115.43 L510.3 115.4 L511 115.41 L511.7 114.84 L512.4 114.96 L513.1 114.56 L513.8 114.47 L514.5 114.68 L515.2 114.44 L515.9 114.48 L516.6 114.12 L517.3 113.77 L518 113.83 L518.7 113.81 L519.4 113.85 L520.1 113.74 L520.8 113.35 L521.5 113.19 L522.2 112.89 L522.9 113.03 L523.6 112.68 L524.3 112.51 L525 112.3 L525.7 112.16 L526.4 112.36 L527.1 111.94 L527.8 112.22 L528.5 111.64 L529.2 111.89 L529.9 111.38 L530.6 111.18 L531.3 111.39 L532 111.01 L532.7 111.11 L533.4 110.69 L534.1 110.48 L534.8 110.7 L535.5 110.53 L536.2 110.46 L536.9 110.25 L537.6 109.79 L538.3 109.91 L539 109.81 L539.7 109.54 L540.4 109.64 L541.1 109.16 L541.8 109.37" fill="none" stroke="#2e9e5e" stroke-width="2" stroke-linejoin="round"/>
<path d="M352.8 158.57 L353.5 157.93 L354.2 157.86 L354.9 158.29 L355.6 158.36 L356.3 157.69 L357 157.8 L357.7 158.07 L358.4 157.54 L359.1 158.02 L359.8 157.64 L360.5 157.22 L361.2 157.39 L361.9 157.47 L362.6 157.28 L363.3 157.38 L364 156.87 L364.7 157.3 L365.4 156.85 L366.1 156.98 L366.8 156.86 L367.5 156.59 L368.2 156.45 L368.9 156.66 L369.6 156.67 L370.3 156.42 L371 156.13 L371.7 155.79 L372.4 155.48 L373.1 156.09 L373.8 155.75 L374.5 155.72 L375.2 155.2 L375.9 155.29 L376.6 155.45 L377.3 155.2 L378 154.88 L378.7 154.51 L379.4 154.47 L380.1 154.7 L380.8 154.14 L381.5 154.25 L382.2 154.03 L382.9 154.12 L383.6 153.9 L384.3 153.33 L385 152.94 L385.7 152.99 L386.4 152.96 L387.1 152.92 L387.8 152.94 L388.5 152.82 L389.2 151.97 L389.9 152.43 L390.6 152.23 L391.3 152.09 L392 151.67 L392.7 151.25 L393.4 151.52 L394.1 151.29 L394.8 150.99 L395.5 150.97 L396.2 150.31 L396.9 149.9 L397.6 150.06 L398.3 150.04 L399 149.34 L399.7 149.55 L400.4 149.46 L401.1 148.66 L401.8 148.7 L402.5 148.49 L403.2 148.04 L403.9 147.54 L404.6 147.26 L405.3 147.33 L406 147.03 L406.7 146.42 L407.4 145.76 L408.1 145.97 L408.8 145.56 L409.5 144.74 L410.2 144.61 L410.9 144.46 L411.6 144.02 L412.3 143.29 L413 142.81 L413.7 142.43 L414.4 141.62 L415.1 141.1 L415.8 140.56 L416.5 140.43 L417.2 139.57 L417.9 139.06 L418.6 138.17 L419.3 137.37 L420 136.06 L420.7 135.02 L421.4 134.14 L422.1 132.53 L422.8 130.99 L423.5 129.71 L424.2 128.25 L424.9 126.46 L425.6 125.02 L426.3 123.18 L427 121.43 L427.7 119.43 L428.4 117.72 L429.1 116.6 L429.8 115.18 L430.5 113.77 L431.2 112.75 L431.9 111.86 L432.6 111.63 L433.3 111.38 L434 111.8 L434.7 112.25 L435.4 113.04 L436.1 114.09 L436.8 115.14 L437.5 116.56 L438.2 118.18 L438.9 119.66 L439.6 120.93 L440.3 122.03 L441 123.26 L441.7 124.34 L442.4 125.06 L443.1 126.05 L443.8 126.75 L444.5 127 L445.2 127.7 L445.9 128 L446.6 128.18 L447.3 128.72 L448 128.57 L448.7 128.74 L449.4 128.74 L450.1 128.76 L450.8 128.43 L451.5 127.99 L452.2 127.57 L452.9 126.94 L453.6 126.71 L454.3 126.15 L455 125.29 L455.7 124.63 L456.4 124.09 L457.1 123.46 L457.8 123 L458.5 122.33 L459.2 121.64 L459.9 120.67 L460.6 120.34 L461.3 119.73 L462 119.17 L462.7 118.82 L463.4 118 L464.1 117.63 L464.8 117.46 L465.5 117.14 L466.2 116.66 L466.9 116.17 L467.6 115.97 L468.3 115.77 L469 115.3 L469.7 115.22 L470.4 115.07 L471.1 114.98 L471.8 115.14 L472.5 115.09 L473.2 115.27 L473.9 115.44 L474.6 115.9 L475.3 115.94 L476 116.56 L476.7 116.71 L477.4 117.05 L478.1 117.82 L478.8 117.97 L479.5 118.71 L480.2 119.14 L480.9 119.63 L481.6 119.8 L482.3 120.4 L483 120.73 L483.7 121.54 L484.4 122.01 L485.1 122.47 L485.8 122.98 L486.5 123.55 L487.2 124.38 L487.9 124.89 L488.6 125.6 L489.3 126.04 L490 126.69 L490.7 127.22 L491.4 128.02 L492.1 128.46 L492.8 128.76 L493.5 129.43 L494.2 129.54 L494.9 129.91 L495.6 130.09 L496.3 130.4 L497 130.87 L497.7 130.88 L498.4 131.01 L499.1 131.3 L499.8 131.38 L500.5 131.74 L501.2 131.53 L501.9 131.97 L502.6 131.67 L503.3 132.06 L504 132.01 L504.7 131.86 L505.4 131.98 L506.1 131.91 L506.8 131.89 L507.5 131.85 L508.2 131.87 L508.9 132.07 L509.6 132 L510.3 131.9 L511 131.49 L511.7 131.47 L512.4 131.61 L513.1 131.17 L513.8 131.32 L514.5 131.03 L515.2 131.17 L515.9 130.66 L516.6 130.84 L517.3 130.52 L518 130.3 L518.7 130.1 L519.4 130.29 L520.1 130.02 L520.8 129.73 L521.5 129.69 L522.2 129.73 L522.9 129.3 L523.6 129.28 L524.3 128.95 L525 128.8 L525.7 128.87 L526.4 128.68 L527.1 128.29 L527.8 128.07 L528.5 127.9 L529.2 127.92 L529.9 127.69 L530.6 127.42 L531.3 127.21 L532 127.18 L532.7 127.03 L533.4 126.88 L534.1 126.6 L534.8 126.26 L535.5 126.01 L536.2 126.09 L536.9 125.76 L537.6 125.69 L538.3 125.23 L539 125.34 L539.7 124.96 L540.4 124.97 L541.1 124.79 L541.8 124.45" fill="none" stroke="#4a4a4a" stroke-width="2" stroke-linejoin="round"/>
<rect x="352.8" y="7.6" width="190.3" height="153.1" fill="none" stroke="#333" stroke-width="1.3"/>
<line x1="366.1" y1="160.7" x2="366.1" y2="156.7" stroke="#333" stroke-width="1"/>
<line x1="386.525" y1="160.7" x2="386.525" y2="158.2" stroke="#333" stroke-width="1"/>
<line x1="406.95" y1="160.7" x2="406.95" y2="156.7" stroke="#333" stroke-width="1"/>
<line x1="427.375" y1="160.7" x2="427.375" y2="158.2" stroke="#333" stroke-width="1"/>
<line x1="447.8" y1="160.7" x2="447.8" y2="156.7" stroke="#333" stroke-width="1"/>
<line x1="468.225" y1="160.7" x2="468.225" y2="158.2" stroke="#333" stroke-width="1"/>
<line x1="488.65" y1="160.7" x2="488.65" y2="156.7" stroke="#333" stroke-width="1"/>
<line x1="509.075" y1="160.7" x2="509.075" y2="158.2" stroke="#333" stroke-width="1"/>
<line x1="529.5" y1="160.7" x2="529.5" y2="156.7" stroke="#333" stroke-width="1"/>
<line x1="352.8" y1="38.8" x2="356.2" y2="38.8" stroke="#333" stroke-width="1"/>
<line x1="352.8" y1="69.9" x2="356.2" y2="69.9" stroke="#333" stroke-width="1"/>
<line x1="352.8" y1="101" x2="356.2" y2="101" stroke="#333" stroke-width="1"/>
<line x1="352.8" y1="132.1" x2="356.2" y2="132.1" stroke="#333" stroke-width="1"/>
<text transform="translate(341.3 84) rotate(-90)" text-anchor="middle" font-family="'Liberation Sans', sans-serif" font-weight="bold" font-size="12.5" fill="#151515" stroke="#151515" stroke-width="0.4"><tspan font-weight="normal" stroke-width="0.1">Δ</tspan>R/R</text>
<text x="365.3" y="174.5" text-anchor="middle" font-family="'Liberation Sans', sans-serif" font-weight="bold" font-size="12.3" fill="#151515" stroke="#151515" stroke-width="0.4">1.65</text>
<text x="406.15" y="174.5" text-anchor="middle" font-family="'Liberation Sans', sans-serif" font-weight="bold" font-size="12.3" fill="#151515" stroke="#151515" stroke-width="0.4">1.80</text>
<text x="447" y="174.5" text-anchor="middle" font-family="'Liberation Sans', sans-serif" font-weight="bold" font-size="12.3" fill="#151515" stroke="#151515" stroke-width="0.4">1.95</text>
<text x="487.85" y="174.5" text-anchor="middle" font-family="'Liberation Sans', sans-serif" font-weight="bold" font-size="12.3" fill="#151515" stroke="#151515" stroke-width="0.4">2.10</text>
<text x="528.7" y="174.5" text-anchor="middle" font-family="'Liberation Sans', sans-serif" font-weight="bold" font-size="12.3" fill="#151515" stroke="#151515" stroke-width="0.4">2.25</text>
<text x="542" y="33.4" text-anchor="end" font-family="'Liberation Sans', sans-serif" font-weight="bold" font-size="8" fill="#b8962c" textLength="21.3" lengthAdjust="spacingAndGlyphs">Hom o</text>
<text x="542" y="48" text-anchor="end" font-family="'Liberation Sans', sans-serif" font-weight="bold" font-size="8" fill="#8a3ad0">60°</text>
<text x="542" y="63.8" text-anchor="end" font-family="'Liberation Sans', sans-serif" font-weight="bold" font-size="8" fill="#48e0e0">58°</text>
<text x="542" y="92.3" text-anchor="end" font-family="'Liberation Sans', sans-serif" font-weight="bold" font-size="8" fill="#2030c8">41°</text>
<text x="542" y="107.8" text-anchor="end" font-family="'Liberation Sans', sans-serif" font-weight="bold" font-size="8" fill="#e03040">31°</text>
<text x="542" y="123.3" text-anchor="end" font-family="'Liberation Sans', sans-serif" font-weight="bold" font-size="8" fill="#38e038">23°</text>
<text x="542" y="134.6" text-anchor="end" font-family="'Liberation Sans', sans-serif" font-weight="bold" font-size="8" fill="#3a3a3a">0°</text>
<text x="451.5" y="186.8" text-anchor="middle" font-family="'Liberation Sans', sans-serif" font-weight="bold" font-size="13" fill="#151515" stroke="#151515" stroke-width="0.4">Energy (eV)</text>
<!-- panel b -->
<text x="3.4" y="201.3" font-family="'Liberation Serif', serif" font-weight="bold" font-size="13" fill="#111" stroke="#111" stroke-width="0.35">(b)</text>
<circle cx="157.7" cy="286.6" r="8.11" fill="none" stroke="#c8c8c8" stroke-width="0.7" stroke-dasharray="1.2 1"/>
<circle cx="157.7" cy="286.6" r="16.23" fill="none" stroke="#b0b0b0" stroke-width="0.8"/>
<circle cx="157.7" cy="286.6" r="24.34" fill="none" stroke="#c8c8c8" stroke-width="0.7" stroke-dasharray="1.2 1"/>
<circle cx="157.7" cy="286.6" r="32.45" fill="none" stroke="#b0b0b0" stroke-width="0.8"/>
<circle cx="157.7" cy="286.6" r="40.56" fill="none" stroke="#c8c8c8" stroke-width="0.7" stroke-dasharray="1.2 1"/>
<circle cx="157.7" cy="286.6" r="48.68" fill="none" stroke="#b0b0b0" stroke-width="0.8"/>
<circle cx="157.7" cy="286.6" r="56.79" fill="none" stroke="#c8c8c8" stroke-width="0.7" stroke-dasharray="1.2 1"/>
<circle cx="157.7" cy="286.6" r="64.9" fill="none" stroke="#b0b0b0" stroke-width="0.8"/>
<line x1="157.7" y1="286.6" x2="229.09" y2="286.6" stroke="#a8a8a8" stroke-width="0.9"/>
<line x1="157.7" y1="286.6" x2="228.01" y2="274.2" stroke="#d0d0d0" stroke-width="0.6" stroke-dasharray="1 1.4"/>
<line x1="157.7" y1="286.6" x2="224.78" y2="262.18" stroke="#d0d0d0" stroke-width="0.6" stroke-dasharray="1 1.4"/>
<line x1="157.7" y1="286.6" x2="219.53" y2="250.91" stroke="#a8a8a8" stroke-width="0.9"/>
<line x1="157.7" y1="286.6" x2="212.39" y2="240.71" stroke="#d0d0d0" stroke-width="0.6" stroke-dasharray="1 1.4"/>
<line x1="157.7" y1="286.6" x2="203.59" y2="231.91" stroke="#d0d0d0" stroke-width="0.6" stroke-dasharray="1 1.4"/>
<line x1="157.7" y1="286.6" x2="193.4" y2="224.77" stroke="#a8a8a8" stroke-width="0.9"/>
<line x1="157.7" y1="286.6" x2="182.12" y2="219.52" stroke="#d0d0d0" stroke-width="0.6" stroke-dasharray="1 1.4"/>
<line x1="157.7" y1="286.6" x2="170.1" y2="216.29" stroke="#d0d0d0" stroke-width="0.6" stroke-dasharray="1 1.4"/>
<line x1="157.7" y1="286.6" x2="157.7" y2="215.21" stroke="#a8a8a8" stroke-width="0.9"/>
<line x1="157.7" y1="286.6" x2="145.3" y2="216.29" stroke="#d0d0d0" stroke-width="0.6" stroke-dasharray="1 1.4"/>
<line x1="157.7" y1="286.6" x2="133.28" y2="219.52" stroke="#d0d0d0" stroke-width="0.6" stroke-dasharray="1 1.4"/>
<line x1="157.7" y1="286.6" x2="122" y2="224.77" stroke="#a8a8a8" stroke-width="0.9"/>
<line x1="157.7" y1="286.6" x2="111.81" y2="231.91" stroke="#d0d0d0" stroke-width="0.6" stroke-dasharray="1 1.4"/>
<line x1="157.7" y1="286.6" x2="103.01" y2="240.71" stroke="#d0d0d0" stroke-width="0.6" stroke-dasharray="1 1.4"/>
<line x1="157.7" y1="286.6" x2="95.87" y2="250.91" stroke="#a8a8a8" stroke-width="0.9"/>
<line x1="157.7" y1="286.6" x2="90.62" y2="262.18" stroke="#d0d0d0" stroke-width="0.6" stroke-dasharray="1 1.4"/>
<line x1="157.7" y1="286.6" x2="87.39" y2="274.2" stroke="#d0d0d0" stroke-width="0.6" stroke-dasharray="1 1.4"/>
<line x1="157.7" y1="286.6" x2="86.31" y2="286.6" stroke="#a8a8a8" stroke-width="0.9"/>
<line x1="157.7" y1="286.6" x2="87.39" y2="299" stroke="#d0d0d0" stroke-width="0.6" stroke-dasharray="1 1.4"/>
<line x1="157.7" y1="286.6" x2="90.62" y2="311.02" stroke="#d0d0d0" stroke-width="0.6" stroke-dasharray="1 1.4"/>
<line x1="157.7" y1="286.6" x2="95.87" y2="322.3" stroke="#a8a8a8" stroke-width="0.9"/>
<line x1="157.7" y1="286.6" x2="103.01" y2="332.49" stroke="#d0d0d0" stroke-width="0.6" stroke-dasharray="1 1.4"/>
<line x1="157.7" y1="286.6" x2="111.81" y2="341.29" stroke="#d0d0d0" stroke-width="0.6" stroke-dasharray="1 1.4"/>
<line x1="157.7" y1="286.6" x2="122" y2="348.43" stroke="#a8a8a8" stroke-width="0.9"/>
<line x1="157.7" y1="286.6" x2="133.28" y2="353.68" stroke="#d0d0d0" stroke-width="0.6" stroke-dasharray="1 1.4"/>
<line x1="157.7" y1="286.6" x2="145.3" y2="356.91" stroke="#d0d0d0" stroke-width="0.6" stroke-dasharray="1 1.4"/>
<line x1="157.7" y1="286.6" x2="157.7" y2="357.99" stroke="#a8a8a8" stroke-width="0.9"/>
<line x1="157.7" y1="286.6" x2="170.1" y2="356.91" stroke="#d0d0d0" stroke-width="0.6" stroke-dasharray="1 1.4"/>
<line x1="157.7" y1="286.6" x2="182.12" y2="353.68" stroke="#d0d0d0" stroke-width="0.6" stroke-dasharray="1 1.4"/>
<line x1="157.7" y1="286.6" x2="193.4" y2="348.43" stroke="#a8a8a8" stroke-width="0.9"/>
<line x1="157.7" y1="286.6" x2="203.59" y2="341.29" stroke="#d0d0d0" stroke-width="0.6" stroke-dasharray="1 1.4"/>
<line x1="157.7" y1="286.6" x2="212.39" y2="332.49" stroke="#d0d0d0" stroke-width="0.6" stroke-dasharray="1 1.4"/>
<line x1="157.7" y1="286.6" x2="219.53" y2="322.3" stroke="#a8a8a8" stroke-width="0.9"/>
<line x1="157.7" y1="286.6" x2="224.78" y2="311.02" stroke="#d0d0d0" stroke-width="0.6" stroke-dasharray="1 1.4"/>
<line x1="157.7" y1="286.6" x2="228.01" y2="299" stroke="#d0d0d0" stroke-width="0.6" stroke-dasharray="1 1.4"/>
<circle cx="157.7" cy="286.6" r="71.39" fill="none" stroke="#5a5a5a" stroke-width="1.1"/>
<path d="M157.7 286.6 L157.76 286.6 L157.92 286.59 L158.18 286.57 L158.54 286.53 L158.97 286.49 L159.49 286.43 L160.1 286.35 L160.78 286.25 L161.53 286.13 L162.35 285.99 L163.24 285.82 L164.2 285.63 L165.22 285.41 L166.29 285.16 L167.42 284.89 L168.59 284.58 L169.81 284.25 L171.08 283.88 L172.38 283.48 L173.71 283.05 L175.07 282.59 L176.46 282.1 L177.87 281.57 L179.29 281.02 L180.72 280.43 L182.16 279.82 L183.61 279.17 L185.05 278.5 L186.49 277.8 L187.91 277.07 L189.32 276.32 L190.72 275.55 L192.09 274.76 L193.43 273.95 L194.74 273.12 L196.02 272.27 L197.26 271.41 L198.46 270.54 L199.62 269.67 L200.72 268.78 L201.77 267.89 L202.77 267 L203.72 266.11 L204.6 265.23 L205.42 264.35 L206.18 263.48 L206.87 262.62 L207.49 261.78 L208.04 260.95 L208.52 260.14 L208.93 259.36 L209.27 258.6 L209.54 257.87 L209.73 257.16 L209.84 256.5 L209.88 255.86 L209.85 255.26 L209.75 254.71 L209.57 254.19 L209.32 253.72 L208.99 253.29 L208.6 252.91 L208.14 252.58 L207.61 252.3 L207.02 252.07 L206.36 251.89 L205.65 251.76 L204.87 251.69 L204.04 251.68 L203.16 251.72 L202.22 251.81 L201.24 251.97 L200.21 252.17 L199.14 252.44 L198.03 252.76 L196.89 253.13 L195.72 253.55 L194.51 254.03 L193.28 254.56 L192.03 255.14 L190.76 255.77 L189.48 256.44 L188.18 257.16 L186.88 257.92 L185.58 258.72 L184.27 259.56 L182.96 260.44 L181.67 261.34 L180.38 262.28 L179.1 263.24 L177.84 264.23 L176.6 265.24 L175.38 266.26 L174.19 267.3 L173.02 268.34 L171.88 269.39 L170.78 270.45 L169.71 271.5 L168.68 272.55 L167.68 273.59 L166.73 274.62 L165.82 275.63 L164.95 276.62 L164.13 277.58 L163.36 278.52 L162.63 279.42 L161.96 280.29 L161.33 281.12 L160.75 281.9 L160.22 282.64 L159.74 283.33 L159.32 283.96 L158.94 284.53 L158.62 285.05 L158.34 285.49 L158.11 285.87 L157.94 286.17 L157.81 286.4 L157.73 286.55 L157.7 286.6Z" fill="none" stroke="#1b8a1b" stroke-width="1.5"/>
<path d="M157.7 286.6 L157.73 286.55 L157.79 286.4 L157.9 286.16 L158.03 285.84 L158.2 285.44 L158.39 284.95 L158.61 284.39 L158.84 283.75 L159.09 283.04 L159.35 282.26 L159.62 281.4 L159.9 280.48 L160.19 279.49 L160.48 278.44 L160.77 277.32 L161.05 276.16 L161.33 274.93 L161.61 273.66 L161.87 272.34 L162.12 270.98 L162.36 269.57 L162.58 268.13 L162.78 266.66 L162.97 265.16 L163.13 263.63 L163.27 262.09 L163.39 260.53 L163.48 258.95 L163.54 257.37 L163.58 255.79 L163.59 254.2 L163.57 252.63 L163.52 251.06 L163.44 249.51 L163.34 247.97 L163.2 246.46 L163.03 244.98 L162.84 243.52 L162.61 242.11 L162.36 240.73 L162.08 239.39 L161.77 238.1 L161.44 236.86 L161.08 235.68 L160.7 234.55 L160.3 233.48 L159.87 232.48 L159.43 231.54 L158.97 230.67 L158.49 229.87 L158 229.14 L157.5 228.49 L156.98 227.92 L156.46 227.42 L155.93 227.01 L155.4 226.67 L154.86 226.42 L154.33 226.25 L153.79 226.17 L153.26 226.16 L152.74 226.24 L152.22 226.41 L151.72 226.65 L151.22 226.98 L150.74 227.39 L150.28 227.88 L149.84 228.44 L149.41 229.09 L149.01 229.8 L148.63 230.59 L148.27 231.45 L147.94 232.38 L147.64 233.38 L147.37 234.43 L147.13 235.55 L146.92 236.72 L146.73 237.94 L146.59 239.22 L146.47 240.54 L146.39 241.9 L146.34 243.3 L146.33 244.74 L146.34 246.2 L146.4 247.7 L146.48 249.21 L146.6 250.74 L146.75 252.29 L146.93 253.85 L147.14 255.41 L147.38 256.98 L147.65 258.54 L147.95 260.09 L148.27 261.64 L148.61 263.16 L148.97 264.67 L149.36 266.16 L149.76 267.62 L150.17 269.04 L150.6 270.44 L151.04 271.79 L151.49 273.1 L151.94 274.37 L152.4 275.59 L152.86 276.76 L153.31 277.87 L153.76 278.93 L154.2 279.93 L154.62 280.86 L155.04 281.74 L155.43 282.54 L155.81 283.28 L156.16 283.95 L156.48 284.55 L156.78 285.07 L157.03 285.52 L157.26 285.9 L157.44 286.2 L157.58 286.41 L157.67 286.55 L157.7 286.6Z" fill="none" stroke="#1b8a1b" stroke-width="1.5"/>
<path d="M157.7 286.6 L157.66 286.55 L157.57 286.42 L157.41 286.21 L157.2 285.94 L156.92 285.6 L156.59 285.2 L156.2 284.74 L155.76 284.22 L155.25 283.66 L154.69 283.05 L154.07 282.4 L153.4 281.7 L152.67 280.97 L151.89 280.21 L151.05 279.42 L150.16 278.6 L149.23 277.77 L148.24 276.91 L147.21 276.04 L146.14 275.16 L145.02 274.27 L143.87 273.38 L142.67 272.49 L141.45 271.6 L140.19 270.72 L138.9 269.85 L137.59 268.99 L136.25 268.15 L134.9 267.33 L133.53 266.53 L132.14 265.76 L130.75 265.01 L129.35 264.29 L127.95 263.61 L126.56 262.96 L125.16 262.35 L123.78 261.78 L122.41 261.24 L121.06 260.75 L119.73 260.31 L118.42 259.91 L117.14 259.55 L115.9 259.24 L114.68 258.98 L113.51 258.77 L112.38 258.61 L111.29 258.49 L110.25 258.43 L109.27 258.41 L108.34 258.44 L107.46 258.52 L106.65 258.65 L105.89 258.82 L105.21 259.04 L104.59 259.3 L104.04 259.61 L103.55 259.96 L103.15 260.35 L102.81 260.77 L102.55 261.24 L102.37 261.73 L102.26 262.27 L102.23 262.83 L102.28 263.42 L102.41 264.04 L102.61 264.68 L102.89 265.34 L103.25 266.03 L103.69 266.73 L104.2 267.44 L104.78 268.17 L105.43 268.91 L106.16 269.65 L106.95 270.4 L107.81 271.16 L108.74 271.91 L109.72 272.66 L110.77 273.41 L111.87 274.15 L113.03 274.88 L114.23 275.6 L115.48 276.31 L116.78 277 L118.11 277.68 L119.48 278.34 L120.88 278.98 L122.31 279.59 L123.77 280.19 L125.24 280.76 L126.73 281.31 L128.23 281.83 L129.73 282.32 L131.24 282.79 L132.75 283.23 L134.25 283.64 L135.74 284.02 L137.21 284.37 L138.66 284.7 L140.09 285 L141.49 285.27 L142.86 285.51 L144.19 285.73 L145.48 285.92 L146.73 286.08 L147.92 286.22 L149.07 286.34 L150.15 286.44 L151.18 286.52 L152.15 286.58 L153.05 286.62 L153.87 286.65 L154.63 286.67 L155.31 286.68 L155.91 286.67 L156.43 286.66 L156.87 286.65 L157.22 286.63 L157.48 286.62 L157.64 286.61 L157.7 286.6Z" fill="none" stroke="#1b8a1b" stroke-width="1.5"/>
<path d="M157.7 286.6 L157.64 286.61 L157.48 286.62 L157.22 286.65 L156.86 286.7 L156.43 286.76 L155.91 286.84 L155.31 286.94 L154.63 287.06 L153.88 287.21 L153.06 287.38 L152.17 287.58 L151.22 287.8 L150.21 288.06 L149.14 288.34 L148.02 288.66 L146.85 289.01 L145.64 289.39 L144.38 289.8 L143.09 290.24 L141.77 290.72 L140.42 291.23 L139.05 291.77 L137.66 292.35 L136.25 292.95 L134.83 293.59 L133.41 294.26 L131.98 294.96 L130.56 295.68 L129.15 296.43 L127.74 297.21 L126.35 298.01 L124.98 298.83 L123.64 299.68 L122.32 300.54 L121.03 301.42 L119.78 302.31 L118.56 303.21 L117.39 304.13 L116.27 305.05 L115.19 305.97 L114.16 306.9 L113.19 307.83 L112.28 308.75 L111.42 309.67 L110.63 310.58 L109.9 311.48 L109.24 312.37 L108.65 313.23 L108.12 314.08 L107.67 314.91 L107.28 315.71 L106.97 316.48 L106.73 317.22 L106.57 317.94 L106.47 318.61 L106.45 319.25 L106.51 319.85 L106.63 320.4 L106.83 320.91 L107.1 321.38 L107.44 321.79 L107.84 322.16 L108.32 322.48 L108.86 322.74 L109.46 322.95 L110.12 323.11 L110.84 323.21 L111.62 323.25 L112.46 323.24 L113.34 323.17 L114.28 323.04 L115.26 322.85 L116.28 322.61 L117.34 322.3 L118.44 321.95 L119.58 321.53 L120.74 321.07 L121.93 320.54 L123.15 319.97 L124.38 319.34 L125.63 318.67 L126.89 317.95 L128.17 317.18 L129.44 316.37 L130.73 315.53 L132.01 314.64 L133.28 313.72 L134.55 312.76 L135.81 311.78 L137.06 310.77 L138.29 309.73 L139.5 308.68 L140.68 307.61 L141.84 306.53 L142.98 305.44 L144.08 304.35 L145.15 303.25 L146.19 302.16 L147.19 301.07 L148.15 299.99 L149.07 298.93 L149.94 297.89 L150.78 296.86 L151.57 295.87 L152.31 294.9 L153.01 293.97 L153.65 293.07 L154.25 292.22 L154.81 291.41 L155.31 290.66 L155.76 289.95 L156.17 289.3 L156.53 288.71 L156.84 288.19 L157.1 287.73 L157.31 287.35 L157.48 287.03 L157.6 286.8 L157.67 286.65 L157.7 286.6Z" fill="none" stroke="#1b8a1b" stroke-width="1.5"/>
<path d="M157.7 286.6 L157.67 286.65 L157.6 286.8 L157.5 287.04 L157.35 287.36 L157.18 287.76 L156.98 288.25 L156.76 288.81 L156.52 289.45 L156.26 290.16 L155.99 290.94 L155.7 291.8 L155.41 292.73 L155.11 293.72 L154.81 294.77 L154.5 295.88 L154.2 297.05 L153.91 298.28 L153.62 299.55 L153.33 300.88 L153.07 302.25 L152.81 303.65 L152.57 305.1 L152.35 306.58 L152.14 308.08 L151.96 309.61 L151.8 311.16 L151.67 312.73 L151.56 314.31 L151.47 315.9 L151.42 317.49 L151.39 319.08 L151.39 320.67 L151.42 322.24 L151.47 323.8 L151.56 325.35 L151.68 326.87 L151.83 328.36 L152.01 329.82 L152.22 331.25 L152.45 332.64 L152.72 333.98 L153.01 335.28 L153.33 336.53 L153.68 337.73 L154.05 338.87 L154.44 339.95 L154.85 340.96 L155.29 341.91 L155.74 342.79 L156.21 343.6 L156.69 344.33 L157.19 344.99 L157.7 345.58 L158.22 346.08 L158.75 346.5 L159.28 346.85 L159.81 347.11 L160.35 347.28 L160.89 347.38 L161.42 347.39 L161.95 347.31 L162.47 347.15 L162.98 346.91 L163.48 346.59 L163.96 346.19 L164.43 345.7 L164.89 345.14 L165.32 344.5 L165.74 343.78 L166.13 342.99 L166.5 342.13 L166.84 341.2 L167.15 340.21 L167.44 339.15 L167.7 338.03 L167.92 336.86 L168.12 335.63 L168.29 334.35 L168.42 333.02 L168.52 331.66 L168.58 330.25 L168.62 328.81 L168.61 327.33 L168.58 325.83 L168.51 324.31 L168.41 322.77 L168.28 321.21 L168.12 319.64 L167.93 318.07 L167.7 316.49 L167.45 314.92 L167.18 313.36 L166.87 311.8 L166.55 310.26 L166.2 308.74 L165.83 307.24 L165.45 305.77 L165.05 304.34 L164.63 302.93 L164.21 301.56 L163.77 300.24 L163.33 298.96 L162.89 297.73 L162.45 296.55 L162 295.42 L161.57 294.36 L161.14 293.35 L160.72 292.4 L160.32 291.52 L159.93 290.7 L159.56 289.96 L159.22 289.28 L158.9 288.68 L158.61 288.15 L158.36 287.69 L158.14 287.31 L157.96 287.01 L157.82 286.79 L157.73 286.65 L157.7 286.6Z" fill="none" stroke="#1b8a1b" stroke-width="1.5"/>
<path d="M157.7 286.6 L157.73 286.65 L157.83 286.78 L157.98 286.99 L158.19 287.27 L158.46 287.61 L158.79 288.02 L159.17 288.48 L159.61 289 L160.1 289.57 L160.66 290.19 L161.26 290.85 L161.93 291.55 L162.64 292.29 L163.41 293.06 L164.24 293.86 L165.11 294.69 L166.03 295.54 L167 296.4 L168.02 297.29 L169.08 298.18 L170.18 299.08 L171.32 299.99 L172.5 300.9 L173.72 301.8 L174.96 302.7 L176.23 303.58 L177.53 304.46 L178.85 305.32 L180.2 306.16 L181.55 306.97 L182.92 307.76 L184.3 308.53 L185.69 309.26 L187.07 309.97 L188.46 310.63 L189.84 311.26 L191.21 311.85 L192.57 312.4 L193.91 312.91 L195.24 313.38 L196.54 313.79 L197.81 314.17 L199.05 314.49 L200.26 314.77 L201.43 315 L202.55 315.17 L203.64 315.3 L204.67 315.38 L205.66 315.41 L206.59 315.4 L207.46 315.33 L208.28 315.21 L209.03 315.05 L209.72 314.84 L210.34 314.59 L210.89 314.29 L211.38 313.95 L211.79 313.57 L212.13 313.15 L212.4 312.69 L212.59 312.19 L212.7 311.67 L212.74 311.1 L212.7 310.51 L212.58 309.89 L212.38 309.25 L212.11 308.58 L211.77 307.9 L211.34 307.19 L210.84 306.47 L210.27 305.73 L209.63 304.99 L208.92 304.23 L208.13 303.47 L207.28 302.71 L206.37 301.95 L205.4 301.18 L204.36 300.42 L203.27 299.67 L202.13 298.92 L200.94 298.19 L199.7 297.46 L198.42 296.75 L197.09 296.06 L195.73 295.38 L194.34 294.72 L192.93 294.09 L191.48 293.47 L190.02 292.88 L188.54 292.32 L187.05 291.78 L185.56 291.26 L184.06 290.77 L182.56 290.32 L181.07 289.88 L179.59 289.48 L178.13 289.11 L176.68 288.76 L175.26 288.45 L173.86 288.16 L172.5 287.89 L171.17 287.66 L169.89 287.45 L168.65 287.27 L167.46 287.11 L166.32 286.98 L165.23 286.86 L164.21 286.77 L163.24 286.7 L162.35 286.64 L161.52 286.6 L160.76 286.57 L160.09 286.56 L159.48 286.55 L158.96 286.56 L158.53 286.56 L158.18 286.57 L157.92 286.59 L157.76 286.6 L157.7 286.6Z" fill="none" stroke="#1b8a1b" stroke-width="1.5"/>
<path d="M157.7 286.6 L157.97 286.59 L158.46 286.55 L159.1 286.5 L159.85 286.43 L160.7 286.34 L161.64 286.22 L162.64 286.08 L163.72 285.91 L164.85 285.72 L166.04 285.5 L167.28 285.25 L168.56 284.98 L169.87 284.67 L171.22 284.34 L172.6 283.97 L174 283.58 L175.42 283.16 L176.85 282.7 L178.3 282.22 L179.76 281.71 L181.22 281.17 L182.67 280.6 L184.13 280.01 L185.58 279.39 L187.02 278.74 L188.44 278.07 L189.85 277.38 L191.24 276.67 L192.6 275.93 L193.94 275.17 L195.24 274.4 L196.52 273.61 L197.76 272.81 L198.97 271.99 L200.13 271.16 L201.25 270.32 L202.33 269.47 L203.36 268.61 L204.35 267.75 L205.28 266.89 L206.16 266.03 L206.99 265.17 L207.76 264.31 L208.47 263.46 L209.13 262.62 L209.73 261.79 L210.26 260.96 L210.74 260.16 L211.15 259.36 L211.51 258.59 L211.8 257.84 L212.03 257.1 L212.19 256.4 L212.29 255.71 L212.33 255.06 L212.31 254.43 L212.22 253.84 L212.07 253.28 L211.86 252.76 L211.59 252.27 L211.26 251.82 L210.88 251.4 L210.43 251.03 L209.93 250.7 L209.37 250.42 L208.76 250.18 L208.1 249.98 L207.39 249.83 L206.63 249.73 L205.83 249.67 L204.98 249.66 L204.08 249.71 L203.15 249.8 L202.18 249.94 L201.17 250.13 L200.13 250.36 L199.05 250.65 L197.95 250.99 L196.82 251.37 L195.67 251.81 L194.49 252.29 L193.3 252.82 L192.09 253.39 L190.86 254.01 L189.63 254.67 L188.38 255.38 L187.13 256.12 L185.88 256.91 L184.62 257.73 L183.37 258.59 L182.12 259.48 L180.88 260.4 L179.64 261.36 L178.42 262.34 L177.21 263.35 L176.02 264.38 L174.84 265.43 L173.69 266.5 L172.56 267.58 L171.45 268.68 L170.38 269.78 L169.33 270.89 L168.31 272 L167.33 273.11 L166.38 274.21 L165.46 275.3 L164.59 276.38 L163.76 277.45 L162.97 278.49 L162.22 279.5 L161.52 280.49 L160.87 281.43 L160.26 282.34 L159.71 283.19 L159.21 283.99 L158.76 284.72 L158.38 285.37 L158.07 285.93 L157.83 286.36 L157.7 286.6Z" fill="none" stroke="#e9b13c" stroke-width="1.5"/>
<path d="M157.7 286.6 L157.82 286.35 L158.02 285.9 L158.28 285.31 L158.58 284.61 L158.9 283.81 L159.24 282.93 L159.6 281.96 L159.97 280.93 L160.34 279.83 L160.71 278.67 L161.08 277.46 L161.45 276.19 L161.81 274.88 L162.15 273.52 L162.49 272.13 L162.81 270.69 L163.11 269.23 L163.39 267.74 L163.66 266.23 L163.9 264.69 L164.12 263.14 L164.31 261.57 L164.48 260 L164.62 258.42 L164.74 256.83 L164.82 255.25 L164.88 253.67 L164.91 252.1 L164.91 250.53 L164.88 248.99 L164.81 247.46 L164.72 245.95 L164.6 244.46 L164.45 243 L164.27 241.57 L164.06 240.17 L163.82 238.81 L163.56 237.49 L163.26 236.2 L162.94 234.96 L162.6 233.77 L162.23 232.63 L161.84 231.53 L161.43 230.49 L160.99 229.51 L160.54 228.58 L160.07 227.71 L159.58 226.9 L159.07 226.15 L158.55 225.47 L158.02 224.85 L157.48 224.3 L156.93 223.82 L156.38 223.4 L155.81 223.05 L155.25 222.78 L154.68 222.57 L154.11 222.43 L153.55 222.37 L152.98 222.37 L152.43 222.45 L151.88 222.6 L151.33 222.81 L150.8 223.1 L150.28 223.46 L149.78 223.88 L149.29 224.38 L148.81 224.94 L148.36 225.56 L147.93 226.25 L147.51 227 L147.12 227.81 L146.76 228.69 L146.42 229.61 L146.1 230.6 L145.82 231.64 L145.56 232.73 L145.33 233.87 L145.13 235.05 L144.97 236.28 L144.83 237.56 L144.73 238.87 L144.66 240.22 L144.63 241.6 L144.62 243.01 L144.65 244.45 L144.72 245.92 L144.81 247.41 L144.94 248.91 L145.11 250.44 L145.3 251.97 L145.53 253.52 L145.79 255.07 L146.07 256.62 L146.39 258.18 L146.73 259.73 L147.11 261.27 L147.5 262.81 L147.92 264.33 L148.37 265.83 L148.83 267.32 L149.31 268.78 L149.81 270.21 L150.32 271.61 L150.85 272.98 L151.38 274.31 L151.93 275.6 L152.47 276.85 L153.02 278.05 L153.56 279.2 L154.1 280.29 L154.63 281.32 L155.14 282.29 L155.64 283.19 L156.1 284.02 L156.54 284.76 L156.94 285.41 L157.28 285.95 L157.55 286.37 L157.7 286.6Z" fill="none" stroke="#e9b13c" stroke-width="1.5"/>
<path d="M157.7 286.6 L157.54 286.38 L157.24 285.97 L156.84 285.45 L156.36 284.84 L155.81 284.17 L155.2 283.43 L154.52 282.64 L153.78 281.81 L152.99 280.94 L152.14 280.04 L151.24 279.12 L150.3 278.17 L149.31 277.21 L148.27 276.24 L147.2 275.26 L146.08 274.27 L144.93 273.29 L143.75 272.3 L142.53 271.33 L141.29 270.36 L140.02 269.41 L138.72 268.47 L137.41 267.55 L136.07 266.64 L134.72 265.77 L133.36 264.91 L131.98 264.09 L130.6 263.29 L129.22 262.53 L127.83 261.8 L126.44 261.1 L125.05 260.44 L123.67 259.82 L122.3 259.24 L120.95 258.7 L119.6 258.2 L118.28 257.75 L116.97 257.33 L115.69 256.96 L114.43 256.64 L113.21 256.36 L112.01 256.13 L110.85 255.94 L109.72 255.8 L108.63 255.7 L107.58 255.65 L106.58 255.64 L105.62 255.68 L104.71 255.76 L103.85 255.89 L103.04 256.05 L102.29 256.26 L101.59 256.51 L100.95 256.8 L100.36 257.13 L99.84 257.5 L99.38 257.9 L98.98 258.34 L98.65 258.81 L98.37 259.31 L98.17 259.85 L98.03 260.41 L97.96 260.99 L97.95 261.61 L98.01 262.24 L98.14 262.9 L98.34 263.58 L98.61 264.27 L98.94 264.98 L99.34 265.7 L99.8 266.44 L100.33 267.18 L100.93 267.93 L101.58 268.69 L102.31 269.45 L103.09 270.22 L103.93 270.98 L104.83 271.74 L105.78 272.49 L106.8 273.25 L107.86 273.99 L108.97 274.72 L110.14 275.44 L111.35 276.15 L112.6 276.85 L113.89 277.53 L115.23 278.19 L116.59 278.83 L118 279.46 L119.43 280.06 L120.89 280.64 L122.37 281.19 L123.87 281.73 L125.39 282.23 L126.93 282.71 L128.47 283.17 L130.03 283.59 L131.58 283.99 L133.14 284.36 L134.69 284.71 L136.23 285.02 L137.77 285.31 L139.28 285.57 L140.78 285.8 L142.25 286.01 L143.7 286.18 L145.11 286.34 L146.48 286.46 L147.82 286.57 L149.1 286.65 L150.34 286.7 L151.51 286.74 L152.62 286.76 L153.66 286.76 L154.62 286.75 L155.5 286.73 L156.27 286.7 L156.92 286.66 L157.42 286.62 L157.7 286.6Z" fill="none" stroke="#e9b13c" stroke-width="1.5"/>
<path d="M157.7 286.6 L157.43 286.62 L156.94 286.67 L156.3 286.75 L155.55 286.84 L154.71 286.97 L153.78 287.12 L152.78 287.29 L151.71 287.5 L150.58 287.73 L149.4 287.99 L148.17 288.28 L146.91 288.6 L145.6 288.95 L144.27 289.33 L142.9 289.75 L141.52 290.19 L140.11 290.66 L138.69 291.16 L137.26 291.7 L135.83 292.26 L134.39 292.85 L132.95 293.46 L131.52 294.11 L130.09 294.78 L128.68 295.47 L127.28 296.19 L125.89 296.93 L124.53 297.7 L123.19 298.48 L121.88 299.28 L120.6 300.1 L119.36 300.94 L118.14 301.78 L116.97 302.64 L115.83 303.52 L114.74 304.39 L113.69 305.28 L112.69 306.17 L111.74 307.06 L110.84 307.96 L109.99 308.85 L109.19 309.74 L108.45 310.62 L107.77 311.5 L107.14 312.36 L106.57 313.22 L106.06 314.06 L105.62 314.88 L105.23 315.69 L104.9 316.47 L104.64 317.24 L104.44 317.97 L104.3 318.69 L104.22 319.37 L104.2 320.03 L104.25 320.65 L104.36 321.24 L104.52 321.8 L104.75 322.31 L105.04 322.79 L105.38 323.23 L105.78 323.63 L106.24 323.99 L106.76 324.3 L107.32 324.56 L107.94 324.78 L108.61 324.96 L109.32 325.08 L110.08 325.16 L110.89 325.19 L111.74 325.16 L112.63 325.09 L113.56 324.97 L114.53 324.79 L115.53 324.57 L116.56 324.29 L117.63 323.97 L118.72 323.59 L119.83 323.17 L120.97 322.7 L122.13 322.17 L123.3 321.6 L124.49 320.99 L125.69 320.33 L126.9 319.62 L128.12 318.88 L129.35 318.09 L130.57 317.26 L131.8 316.39 L133.02 315.49 L134.24 314.56 L135.45 313.59 L136.65 312.59 L137.84 311.57 L139.01 310.52 L140.17 309.45 L141.31 308.35 L142.42 307.25 L143.51 306.12 L144.58 304.99 L145.62 303.85 L146.63 302.71 L147.61 301.56 L148.55 300.42 L149.46 299.29 L150.33 298.16 L151.17 297.05 L151.96 295.96 L152.72 294.89 L153.43 293.85 L154.1 292.84 L154.72 291.87 L155.29 290.95 L155.81 290.07 L156.29 289.26 L156.7 288.52 L157.06 287.85 L157.36 287.28 L157.58 286.84 L157.7 286.6Z" fill="none" stroke="#e9b13c" stroke-width="1.5"/>
<path d="M157.7 286.6 L157.58 286.85 L157.36 287.32 L157.08 287.92 L156.77 288.65 L156.42 289.46 L156.06 290.37 L155.68 291.36 L155.29 292.42 L154.89 293.55 L154.49 294.75 L154.09 296 L153.7 297.3 L153.31 298.65 L152.94 300.05 L152.57 301.49 L152.23 302.96 L151.9 304.47 L151.58 306 L151.29 307.56 L151.02 309.14 L150.78 310.74 L150.56 312.36 L150.36 313.98 L150.2 315.61 L150.06 317.25 L149.95 318.88 L149.87 320.51 L149.82 322.14 L149.8 323.75 L149.82 325.35 L149.86 326.93 L149.94 328.49 L150.04 330.03 L150.18 331.53 L150.35 333.01 L150.55 334.46 L150.78 335.87 L151.03 337.24 L151.32 338.57 L151.63 339.85 L151.97 341.09 L152.34 342.27 L152.73 343.41 L153.14 344.49 L153.58 345.51 L154.04 346.47 L154.51 347.38 L155.01 348.22 L155.52 349 L156.05 349.71 L156.59 350.35 L157.14 350.93 L157.7 351.44 L158.27 351.87 L158.85 352.24 L159.43 352.53 L160.01 352.75 L160.59 352.9 L161.18 352.97 L161.76 352.98 L162.34 352.9 L162.91 352.76 L163.47 352.54 L164.02 352.25 L164.56 351.89 L165.09 351.46 L165.6 350.95 L166.1 350.38 L166.57 349.74 L167.03 349.04 L167.47 348.27 L167.88 347.43 L168.27 346.54 L168.63 345.58 L168.97 344.57 L169.28 343.5 L169.56 342.38 L169.81 341.2 L170.02 339.98 L170.21 338.71 L170.37 337.4 L170.49 336.05 L170.58 334.66 L170.63 333.23 L170.65 331.77 L170.64 330.28 L170.59 328.77 L170.51 327.23 L170.4 325.67 L170.25 324.1 L170.06 322.51 L169.85 320.91 L169.6 319.31 L169.33 317.7 L169.02 316.09 L168.68 314.48 L168.32 312.88 L167.93 311.29 L167.51 309.72 L167.08 308.16 L166.62 306.62 L166.14 305.11 L165.64 303.62 L165.13 302.17 L164.6 300.75 L164.07 299.37 L163.52 298.03 L162.97 296.73 L162.43 295.49 L161.88 294.3 L161.34 293.16 L160.8 292.09 L160.29 291.08 L159.79 290.15 L159.32 289.29 L158.87 288.52 L158.47 287.84 L158.13 287.27 L157.85 286.84 L157.7 286.6Z" fill="none" stroke="#e9b13c" stroke-width="1.5"/>
<path d="M157.7 286.6 L157.85 286.82 L158.14 287.22 L158.52 287.73 L158.97 288.32 L159.5 288.98 L160.08 289.71 L160.73 290.48 L161.44 291.3 L162.19 292.15 L163 293.03 L163.86 293.94 L164.76 294.87 L165.71 295.81 L166.7 296.77 L167.73 297.74 L168.79 298.71 L169.89 299.68 L171.03 300.65 L172.19 301.61 L173.39 302.56 L174.61 303.51 L175.85 304.43 L177.11 305.34 L178.39 306.24 L179.69 307.1 L181 307.95 L182.32 308.77 L183.65 309.56 L184.98 310.32 L186.32 311.04 L187.66 311.74 L188.99 312.39 L190.32 313.01 L191.64 313.6 L192.95 314.14 L194.24 314.64 L195.52 315.1 L196.78 315.52 L198.02 315.89 L199.23 316.22 L200.42 316.51 L201.58 316.75 L202.7 316.95 L203.79 317.11 L204.84 317.22 L205.86 317.28 L206.83 317.3 L207.76 317.28 L208.64 317.21 L209.48 317.1 L210.26 316.95 L211 316.75 L211.68 316.52 L212.3 316.25 L212.87 315.94 L213.39 315.59 L213.84 315.2 L214.23 314.79 L214.56 314.33 L214.83 313.85 L215.04 313.34 L215.18 312.8 L215.26 312.23 L215.27 311.63 L215.22 311.02 L215.1 310.38 L214.92 309.72 L214.68 309.04 L214.36 308.35 L213.99 307.64 L213.55 306.93 L213.04 306.2 L212.48 305.46 L211.85 304.72 L211.16 303.97 L210.41 303.22 L209.61 302.47 L208.75 301.72 L207.83 300.97 L206.86 300.23 L205.84 299.5 L204.77 298.77 L203.65 298.06 L202.49 297.35 L201.28 296.66 L200.04 295.99 L198.76 295.33 L197.44 294.68 L196.09 294.06 L194.71 293.46 L193.3 292.88 L191.87 292.32 L190.42 291.78 L188.95 291.27 L187.47 290.78 L185.98 290.32 L184.48 289.89 L182.98 289.48 L181.48 289.1 L179.98 288.75 L178.48 288.42 L177 288.12 L175.54 287.85 L174.09 287.6 L172.66 287.38 L171.27 287.19 L169.9 287.03 L168.57 286.88 L167.28 286.77 L166.03 286.67 L164.84 286.6 L163.7 286.55 L162.62 286.51 L161.62 286.5 L160.68 286.5 L159.84 286.51 L159.09 286.53 L158.46 286.55 L157.97 286.58 L157.7 286.6Z" fill="none" stroke="#e9b13c" stroke-width="1.5"/>
<circle cx="191.36" cy="273.86" r="2.2" fill="#118a11"/>
<circle cx="207.55" cy="260.52" r="2.2" fill="#118a11"/>
<circle cx="209.39" cy="254.85" r="2.2" fill="#118a11"/>
<circle cx="205.45" cy="250.48" r="2.2" fill="#118a11"/>
<circle cx="186.28" cy="258.89" r="2.2" fill="#118a11"/>
<path d="M201.25 266.96 l4 0 l-2 3.5 Z" fill="#edb035"/>
<path d="M207.85 256.59 l4 0 l-2 3.5 Z" fill="#edb035"/>
<path d="M207.58 249.24 l4 0 l-2 3.5 Z" fill="#edb035"/>
<path d="M197.58 249.13 l4 0 l-2 3.5 Z" fill="#edb035"/>
<path d="M181.07 257.21 l4 0 l-2 3.5 Z" fill="#edb035"/>
<circle cx="162.84" cy="250.77" r="2.2" fill="#118a11"/>
<circle cx="158.41" cy="229.02" r="2.2" fill="#118a11"/>
<circle cx="152.61" cy="226.45" r="2.2" fill="#118a11"/>
<circle cx="147.88" cy="230.62" r="2.2" fill="#118a11"/>
<circle cx="146.14" cy="249.51" r="2.2" fill="#118a11"/>
<path d="M161.71 234.48 l4 0 l-2 3.5 Z" fill="#edb035"/>
<path d="M155.48 223.12 l4 0 l-2 3.5 Z" fill="#edb035"/>
<path d="M148.85 221.85 l4 0 l-2 3.5 Z" fill="#edb035"/>
<path d="M143.9 230.31 l4 0 l-2 3.5 Z" fill="#edb035"/>
<path d="M143.22 249.07 l4 0 l-2 3.5 Z" fill="#edb035"/>
<circle cx="128.92" cy="265.46" r="2.2" fill="#118a11"/>
<circle cx="111.38" cy="258.05" r="2.2" fill="#118a11"/>
<circle cx="104.19" cy="261.13" r="2.2" fill="#118a11"/>
<circle cx="102.36" cy="265.23" r="2.2" fill="#118a11"/>
<circle cx="119.46" cy="278.4" r="2.2" fill="#118a11"/>
<path d="M116.37 256.64 l4 0 l-2 3.5 Z" fill="#edb035"/>
<path d="M102.42 255.73 l4 0 l-2 3.5 Z" fill="#edb035"/>
<path d="M96.05 259.95 l4 0 l-2 3.5 Z" fill="#edb035"/>
<path d="M101.27 268.57 l4 0 l-2 3.5 Z" fill="#edb035"/>
<path d="M117.83 278.43 l4 0 l-2 3.5 Z" fill="#edb035"/>
<circle cx="120.29" cy="300.45" r="2.2" fill="#118a11"/>
<circle cx="106.52" cy="315.14" r="2.2" fill="#118a11"/>
<circle cx="107.88" cy="319.41" r="2.2" fill="#118a11"/>
<circle cx="112.79" cy="323.62" r="2.2" fill="#118a11"/>
<circle cx="129.19" cy="315.48" r="2.2" fill="#118a11"/>
<path d="M111.5 304.12 l4 0 l-2 3.5 Z" fill="#edb035"/>
<path d="M104.12 315.28 l4 0 l-2 3.5 Z" fill="#edb035"/>
<path d="M104.86 322.52 l4 0 l-2 3.5 Z" fill="#edb035"/>
<path d="M113.87 323.23 l4 0 l-2 3.5 Z" fill="#edb035"/>
<path d="M132.27 312.34 l4 0 l-2 3.5 Z" fill="#edb035"/>
<circle cx="151.78" cy="325.02" r="2.2" fill="#118a11"/>
<circle cx="156.26" cy="340.85" r="2.2" fill="#118a11"/>
<circle cx="161.24" cy="350.56" r="2.2" fill="#118a11"/>
<circle cx="167.18" cy="343.14" r="2.2" fill="#118a11"/>
<circle cx="168.6" cy="326.75" r="2.2" fill="#118a11"/>
<path d="M148.87 336.79 l4 0 l-2 3.5 Z" fill="#edb035"/>
<path d="M155.13 349.84 l4 0 l-2 3.5 Z" fill="#edb035"/>
<path d="M161.91 349.41 l4 0 l-2 3.5 Z" fill="#edb035"/>
<path d="M166.97 340.29 l4 0 l-2 3.5 Z" fill="#edb035"/>
<path d="M167.88 321.3 l4 0 l-2 3.5 Z" fill="#edb035"/>
<circle cx="187.97" cy="309.46" r="2.2" fill="#118a11"/>
<circle cx="207.38" cy="315.58" r="2.2" fill="#118a11"/>
<circle cx="215.12" cy="312.72" r="2.2" fill="#118a11"/>
<circle cx="209.26" cy="305.83" r="2.2" fill="#118a11"/>
<circle cx="200.49" cy="295.85" r="2.2" fill="#118a11"/>
<path d="M193.57 312.92 l4 0 l-2 3.5 Z" fill="#edb035"/>
<path d="M208.29 314.65 l4 0 l-2 3.5 Z" fill="#edb035"/>
<path d="M213.3 309.95 l4 0 l-2 3.5 Z" fill="#edb035"/>
<path d="M207.42 301.21 l4 0 l-2 3.5 Z" fill="#edb035"/>
<path d="M192.34 291.69 l4 0 l-2 3.5 Z" fill="#edb035"/>
<circle cx="161.09" cy="286.18" r="1.9" fill="#10820f"/>
<circle cx="161.52" cy="282.51" r="1.9" fill="#10820f"/>
<circle cx="158.02" cy="280.58" r="1.9" fill="#10820f"/>
<circle cx="155.82" cy="284.1" r="1.9" fill="#10820f"/>
<circle cx="153.96" cy="285.74" r="1.9" fill="#10820f"/>
<circle cx="149.84" cy="290.6" r="1.9" fill="#10820f"/>
<circle cx="154.71" cy="293.65" r="1.9" fill="#10820f"/>
<circle cx="160.22" cy="294.84" r="1.9" fill="#10820f"/>
<circle cx="163.4" cy="290.3" r="1.9" fill="#10820f"/>
<path d="M160.64 283.27 l3.6 0 l-1.8 3.2 Z" fill="#ecb23c"/>
<path d="M156.84 279.66 l3.6 0 l-1.8 3.2 Z" fill="#ecb23c"/>
<path d="M151.75 281.51 l3.6 0 l-1.8 3.2 Z" fill="#ecb23c"/>
<path d="M154.8 285.4 l3.6 0 l-1.8 3.2 Z" fill="#ecb23c"/>
<path d="M155.17 289.14 l3.6 0 l-1.8 3.2 Z" fill="#ecb23c"/>
<path d="M157.68 286.5 l3.6 0 l-1.8 3.2 Z" fill="#ecb23c"/>
<line x1="60.4" y1="216.5" x2="60.4" y2="285.5" stroke="#888" stroke-width="1"/>
<line x1="57.4" y1="285.2" x2="60.4" y2="285.2" stroke="#888" stroke-width="0.9"/>
<line x1="58.6" y1="277.15" x2="60.4" y2="277.15" stroke="#888" stroke-width="0.9"/>
<line x1="57.4" y1="269.1" x2="60.4" y2="269.1" stroke="#888" stroke-width="0.9"/>
<line x1="58.6" y1="261.05" x2="60.4" y2="261.05" stroke="#888" stroke-width="0.9"/>
<line x1="57.4" y1="253" x2="60.4" y2="253" stroke="#888" stroke-width="0.9"/>
<line x1="58.6" y1="244.95" x2="60.4" y2="244.95" stroke="#888" stroke-width="0.9"/>
<line x1="57.4" y1="236.9" x2="60.4" y2="236.9" stroke="#888" stroke-width="0.9"/>
<line x1="58.6" y1="228.85" x2="60.4" y2="228.85" stroke="#888" stroke-width="0.9"/>
<line x1="57.4" y1="220.8" x2="60.4" y2="220.8" stroke="#888" stroke-width="0.9"/>
<text x="56.5" y="289.3" text-anchor="end" font-family="'Liberation Sans', sans-serif" font-weight="bold" font-size="11.5" fill="#151515" stroke="#151515" stroke-width="0.4">0.00</text>
<text x="56.5" y="273.2" text-anchor="end" font-family="'Liberation Sans', sans-serif" font-weight="bold" font-size="11.5" fill="#151515" stroke="#151515" stroke-width="0.4">0.25</text>
<text x="56.5" y="257.1" text-anchor="end" font-family="'Liberation Sans', sans-serif" font-weight="bold" font-size="11.5" fill="#151515" stroke="#151515" stroke-width="0.4">0.50</text>
<text x="56.5" y="241" text-anchor="end" font-family="'Liberation Sans', sans-serif" font-weight="bold" font-size="11.5" fill="#151515" stroke="#151515" stroke-width="0.4">0.75</text>
<text x="56.5" y="224.9" text-anchor="end" font-family="'Liberation Sans', sans-serif" font-weight="bold" font-size="11.5" fill="#151515" stroke="#151515" stroke-width="0.4">1.00</text>
<text x="236" y="291.5" text-anchor="middle" font-family="'Liberation Sans', sans-serif" font-weight="bold" font-size="12" fill="#151515" stroke="#151515" stroke-width="0.4">0</text>
<text x="229.5" y="248.3" text-anchor="middle" font-family="'Liberation Sans', sans-serif" font-weight="bold" font-size="12" fill="#151515" stroke="#151515" stroke-width="0.4">30</text>
<text x="201.3" y="220.7" text-anchor="middle" font-family="'Liberation Sans', sans-serif" font-weight="bold" font-size="12" fill="#151515" stroke="#151515" stroke-width="0.4">60</text>
<text x="157.4" y="210.3" text-anchor="middle" font-family="'Liberation Sans', sans-serif" font-weight="bold" font-size="12" fill="#151515" stroke="#151515" stroke-width="0.4">90</text>
<text x="110" y="220.7" text-anchor="middle" font-family="'Liberation Sans', sans-serif" font-weight="bold" font-size="12" fill="#151515" stroke="#151515" stroke-width="0.4">120</text>
<text x="83.3" y="248.3" text-anchor="middle" font-family="'Liberation Sans', sans-serif" font-weight="bold" font-size="12" fill="#151515" stroke="#151515" stroke-width="0.4">150</text>
<text x="72.5" y="291.5" text-anchor="middle" font-family="'Liberation Sans', sans-serif" font-weight="bold" font-size="12" fill="#151515" stroke="#151515" stroke-width="0.4">180</text>
<text x="83" y="334.9" text-anchor="middle" font-family="'Liberation Sans', sans-serif" font-weight="bold" font-size="12" fill="#151515" stroke="#151515" stroke-width="0.4">210</text>
<text x="110" y="362.7" text-anchor="middle" font-family="'Liberation Sans', sans-serif" font-weight="bold" font-size="12" fill="#151515" stroke="#151515" stroke-width="0.4">240</text>
<text x="157.5" y="372.9" text-anchor="middle" font-family="'Liberation Sans', sans-serif" font-weight="bold" font-size="12" fill="#151515" stroke="#151515" stroke-width="0.4">270</text>
<text x="204.7" y="362.7" text-anchor="middle" font-family="'Liberation Sans', sans-serif" font-weight="bold" font-size="12" fill="#151515" stroke="#151515" stroke-width="0.4">300</text>
<text x="231.8" y="334.9" text-anchor="middle" font-family="'Liberation Sans', sans-serif" font-weight="bold" font-size="12" fill="#151515" stroke="#151515" stroke-width="0.4">330</text>
<!-- panel d -->
<text x="331" y="199.4" font-family="'Liberation Serif', serif" font-weight="bold" font-size="13" fill="#111" stroke="#111" stroke-width="0.35">(d)</text>
<rect x="365.9" y="226" width="150.3" height="102.2" fill="#ececec"/>
<rect x="516.2" y="228" width="18.5" height="124" fill="#fbe9dd"/>
<line x1="384.6" y1="234" x2="384.6" y2="321" stroke="#b3b3b3" stroke-width="3.2"/>
<path d="M381.3 235.5 L384.6 228.2 L387.9 235.5 Z" fill="#b3b3b3"/>
<path d="M381.3 320.5 L384.6 328.1 L387.9 320.5 Z" fill="#b3b3b3"/>
<line x1="531.7" y1="235" x2="531.7" y2="337" stroke="#f5c9a8" stroke-width="3.2"/>
<path d="M528.2 236.5 L531.7 228.2 L535.2 236.5 Z" fill="#f5c9a8"/>
<path d="M528.2 335.8 L531.7 343.6 L535.2 335.8 Z" fill="#f5c9a8"/>
<rect x="354" y="203.6" width="192" height="154.1" fill="none" stroke="#333" stroke-width="1.3"/>
<line x1="354" y1="357.7" x2="357.6" y2="357.7" stroke="#333" stroke-width="1"/>
<line x1="354" y1="340.265" x2="356.2" y2="340.265" stroke="#333" stroke-width="1"/>
<line x1="354" y1="322.83" x2="357.6" y2="322.83" stroke="#333" stroke-width="1"/>
<line x1="354" y1="305.395" x2="356.2" y2="305.395" stroke="#333" stroke-width="1"/>
<line x1="354" y1="287.96" x2="357.6" y2="287.96" stroke="#333" stroke-width="1"/>
<line x1="354" y1="270.525" x2="356.2" y2="270.525" stroke="#333" stroke-width="1"/>
<line x1="354" y1="253.09" x2="357.6" y2="253.09" stroke="#333" stroke-width="1"/>
<line x1="354" y1="235.655" x2="356.2" y2="235.655" stroke="#333" stroke-width="1"/>
<line x1="354" y1="218.22" x2="357.6" y2="218.22" stroke="#333" stroke-width="1"/>
<line x1="367.4" y1="357.7" x2="367.4" y2="353.9" stroke="#333" stroke-width="1"/>
<line x1="380.56" y1="357.7" x2="380.56" y2="355.4" stroke="#333" stroke-width="1"/>
<line x1="393.72" y1="357.7" x2="393.72" y2="353.9" stroke="#333" stroke-width="1"/>
<line x1="406.88" y1="357.7" x2="406.88" y2="355.4" stroke="#333" stroke-width="1"/>
<line x1="420.04" y1="357.7" x2="420.04" y2="353.9" stroke="#333" stroke-width="1"/>
<line x1="433.2" y1="357.7" x2="433.2" y2="355.4" stroke="#333" stroke-width="1"/>
<line x1="446.36" y1="357.7" x2="446.36" y2="353.9" stroke="#333" stroke-width="1"/>
<line x1="459.52" y1="357.7" x2="459.52" y2="355.4" stroke="#333" stroke-width="1"/>
<line x1="472.68" y1="357.7" x2="472.68" y2="353.9" stroke="#333" stroke-width="1"/>
<line x1="485.84" y1="357.7" x2="485.84" y2="355.4" stroke="#333" stroke-width="1"/>
<line x1="499" y1="357.7" x2="499" y2="353.9" stroke="#333" stroke-width="1"/>
<line x1="512.16" y1="357.7" x2="512.16" y2="355.4" stroke="#333" stroke-width="1"/>
<line x1="525.32" y1="357.7" x2="525.32" y2="353.9" stroke="#333" stroke-width="1"/>
<line x1="538.48" y1="357.7" x2="538.48" y2="355.4" stroke="#333" stroke-width="1"/>
<text x="350.6" y="361.1" text-anchor="end" font-family="'Liberation Sans', sans-serif" font-weight="bold" font-size="13" fill="#151515" stroke="#151515" stroke-width="0.4">1.85</text>
<text x="350.6" y="326.23" text-anchor="end" font-family="'Liberation Sans', sans-serif" font-weight="bold" font-size="13" fill="#151515" stroke="#151515" stroke-width="0.4">1.90</text>
<text x="350.6" y="291.36" text-anchor="end" font-family="'Liberation Sans', sans-serif" font-weight="bold" font-size="13" fill="#151515" stroke="#151515" stroke-width="0.4">1.95</text>
<text x="350.6" y="256.49" text-anchor="end" font-family="'Liberation Sans', sans-serif" font-weight="bold" font-size="13" fill="#151515" stroke="#151515" stroke-width="0.4">2.00</text>
<text x="350.6" y="221.62" text-anchor="end" font-family="'Liberation Sans', sans-serif" font-weight="bold" font-size="13" fill="#151515" stroke="#151515" stroke-width="0.4">2.05</text>
<text x="367.4" y="371.4" text-anchor="middle" font-family="'Liberation Sans', sans-serif" font-weight="bold" font-size="13" fill="#151515" stroke="#151515" stroke-width="0.4">0</text>
<text x="393.72" y="371.4" text-anchor="middle" font-family="'Liberation Sans', sans-serif" font-weight="bold" font-size="13" fill="#151515" stroke="#151515" stroke-width="0.4">10</text>
<text x="420.04" y="371.4" text-anchor="middle" font-family="'Liberation Sans', sans-serif" font-weight="bold" font-size="13" fill="#151515" stroke="#151515" stroke-width="0.4">20</text>
<text x="446.36" y="371.4" text-anchor="middle" font-family="'Liberation Sans', sans-serif" font-weight="bold" font-size="13" fill="#151515" stroke="#151515" stroke-width="0.4">30</text>
<text x="472.68" y="371.4" text-anchor="middle" font-family="'Liberation Sans', sans-serif" font-weight="bold" font-size="13" fill="#151515" stroke="#151515" stroke-width="0.4">40</text>
<text x="499" y="371.4" text-anchor="middle" font-family="'Liberation Sans', sans-serif" font-weight="bold" font-size="13" fill="#151515" stroke="#151515" stroke-width="0.4">50</text>
<text x="525.32" y="371.4" text-anchor="middle" font-family="'Liberation Sans', sans-serif" font-weight="bold" font-size="13" fill="#151515" stroke="#151515" stroke-width="0.4">60</text>
<text x="449.7" y="384.7" text-anchor="middle" font-family="'Liberation Sans', sans-serif" font-weight="bold" font-size="13.4" fill="#151515" stroke="#151515" stroke-width="0.4">Angle(°)</text>
<text transform="translate(320.6 280.2) rotate(-90)" text-anchor="middle" font-family="'Liberation Sans', sans-serif" font-weight="bold" font-size="13" fill="#151515" stroke="#151515" stroke-width="0.4">Energy(eV)</text>
<text transform="translate(387.4 277.1) rotate(90)" text-anchor="middle" font-family="'Liberation Serif', serif" font-weight="bold" font-size="14.2" fill="#151515" stroke="#151515" stroke-width="0.4">140 meV</text>
<text transform="translate(535.2 284.7) rotate(90)" text-anchor="middle" font-family="'Liberation Serif', serif" font-weight="bold" font-size="14.2" fill="#151515" stroke="#151515" stroke-width="0.4">170 meV</text>
<circle cx="368.1" cy="223.6" r="2.9" fill="#e81414"/>
<circle cx="375.9" cy="228.2" r="2.9" fill="#e81414"/>
<circle cx="394.6" cy="226.7" r="2.9" fill="#e81414"/>
<circle cx="409.5" cy="226.4" r="2.9" fill="#e81414"/>
<circle cx="431" cy="226" r="2.9" fill="#e81414"/>
<circle cx="427.4" cy="234.2" r="2.9" fill="#e81414"/>
<circle cx="449.5" cy="222.2" r="2.9" fill="#e81414"/>
<circle cx="474.4" cy="218.8" r="2.9" fill="#e81414"/>
<circle cx="477.8" cy="221" r="2.9" fill="#e81414"/>
<circle cx="499.8" cy="221.8" r="2.9" fill="#e81414"/>
<circle cx="511.6" cy="227.2" r="2.9" fill="#e81414"/>
<circle cx="514.5" cy="226.9" r="2.9" fill="#e81414"/>
<circle cx="519.6" cy="231.6" r="2.9" fill="#e81414"/>
<circle cx="525.2" cy="223.2" r="2.9" fill="#e81414"/>
<circle cx="525.7" cy="226.1" r="2.9" fill="#e81414"/>
<rect x="365.3" y="324.8" width="4.8" height="4.8" fill="#1a1a1a"/>
<rect x="373.5" y="329" width="4.8" height="4.8" fill="#1a1a1a"/>
<rect x="391.7" y="325.3" width="4.8" height="4.8" fill="#1a1a1a"/>
<rect x="406.8" y="323.5" width="4.8" height="4.8" fill="#1a1a1a"/>
<rect x="428.6" y="325.9" width="4.8" height="4.8" fill="#1a1a1a"/>
<rect x="425" y="333.9" width="4.8" height="4.8" fill="#1a1a1a"/>
<rect x="446.8" y="324.8" width="4.8" height="4.8" fill="#1a1a1a"/>
<rect x="471.8" y="321.9" width="4.8" height="4.8" fill="#1a1a1a"/>
<rect x="475.2" y="322.5" width="4.8" height="4.8" fill="#1a1a1a"/>
<rect x="497.3" y="323.4" width="4.8" height="4.8" fill="#1a1a1a"/>
<rect x="508.2" y="325.2" width="4.8" height="4.8" fill="#1a1a1a"/>
<rect x="512" y="324.4" width="4.8" height="4.8" fill="#1a1a1a"/>
<rect x="522.6" y="338.2" width="4.8" height="4.8" fill="#4a4540"/>
<rect x="522.6" y="344.9" width="4.8" height="4.8" fill="#1a1a1a"/>
<rect x="517.4" y="347.8" width="4.8" height="4.8" fill="#1a1a1a"/>
<path d="M520.2 294.3 l3.1 5.4 l-6.2 0 Z" fill="#9a34e0"/>
<path d="M525.6 289.5 l3.1 5.4 l-6.2 0 Z" fill="#9a34e0"/>
<path d="M525.6 296.8 l3.1 5.4 l-6.2 0 Z" fill="#9a34e0"/>
</svg>
</body></html>
